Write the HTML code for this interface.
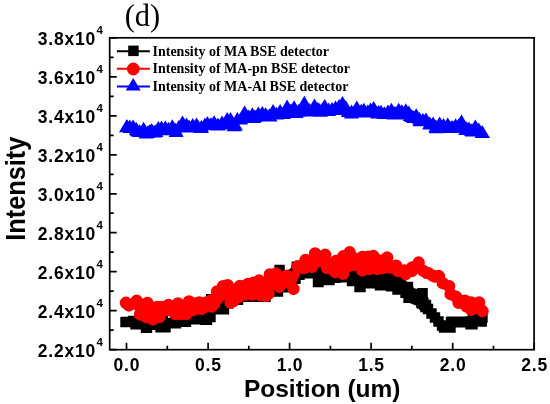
<!DOCTYPE html>
<html><head><meta charset="utf-8"><style>
html,body{margin:0;padding:0;background:#fff;width:550px;height:404px;overflow:hidden}
svg{display:block}
.ax{font-family:"Liberation Sans",Arial,sans-serif;font-weight:bold;font-size:17.5px;fill:#000}
.ax text{letter-spacing:0.78px}
.ax text.sup{font-size:11.5px;letter-spacing:0}
.lg{font-family:"Liberation Serif","Times New Roman",serif;font-weight:bold;font-size:14px;fill:#000}
</style></head><body>
<svg width="550" height="404" viewBox="0 0 550 404">
<rect width="550" height="404" fill="#fff"/>
<text x="142.5" y="25.5" text-anchor="middle" font-family="Liberation Serif,serif" font-size="30.5">(d)</text>
<path fill="#000" d="M121.2 316.8h10.4v10.4h-10.4zM127.8 315.8h10.4v10.4h-10.4zM134.8 314.8h10.4v10.4h-10.4zM144.8 314.8h10.4v10.4h-10.4zM157.8 314.3h10.4v10.4h-10.4zM169.8 314.3h10.4v10.4h-10.4zM179.8 313.8h10.4v10.4h-10.4zM189.8 313.8h10.4v10.4h-10.4zM197.8 304.8h10.4v10.4h-10.4zM206.0 294.0h10.4v10.4h-10.4zM212.8 295.3h10.4v10.4h-10.4zM220.8 292.7h10.4v10.4h-10.4zM225.8 291.8h10.4v10.4h-10.4zM232.0 286.6h10.4v10.4h-10.4zM244.8 283.8h10.4v10.4h-10.4zM254.8 281.8h10.4v10.4h-10.4zM262.8 279.8h10.4v10.4h-10.4zM268.8 274.8h10.4v10.4h-10.4zM274.4 264.8h10.4v10.4h-10.4zM282.8 271.8h10.4v10.4h-10.4zM291.6 261.4h10.4v10.4h-10.4zM299.8 261.8h10.4v10.4h-10.4zM309.8 261.8h10.4v10.4h-10.4zM319.8 260.8h10.4v10.4h-10.4zM329.8 260.8h10.4v10.4h-10.4zM339.8 260.8h10.4v10.4h-10.4zM349.8 260.8h10.4v10.4h-10.4zM357.8 260.8h10.4v10.4h-10.4zM366.8 260.1h10.4v10.4h-10.4zM374.1 260.1h10.4v10.4h-10.4zM380.8 262.8h10.4v10.4h-10.4zM386.8 267.8h10.4v10.4h-10.4zM394.8 275.8h10.4v10.4h-10.4zM402.8 281.8h10.4v10.4h-10.4zM409.8 288.8h10.4v10.4h-10.4zM417.4 288.1h10.4v10.4h-10.4zM420.8 299.8h10.4v10.4h-10.4zM422.8 303.8h10.4v10.4h-10.4zM426.3 308.3h10.4v10.4h-10.4zM429.8 312.3h10.4v10.4h-10.4zM433.3 316.3h10.4v10.4h-10.4zM436.8 320.3h10.4v10.4h-10.4zM440.3 322.2h10.4v10.4h-10.4zM446.3 316.5h10.4v10.4h-10.4zM454.5 316.5h10.4v10.4h-10.4zM459.8 316.7h10.4v10.4h-10.4zM464.8 316.3h10.4v10.4h-10.4zM476.5 316.3h10.4v10.4h-10.4zM120.3 316.9h10.4v10.4h-10.4zM120.8 316.9h10.4v10.4h-10.4zM121.3 316.9h10.4v10.4h-10.4zM121.8 316.9h10.4v10.4h-10.4zM122.3 316.9h10.4v10.4h-10.4zM122.8 316.9h10.4v10.4h-10.4zM123.3 316.9h10.4v10.4h-10.4zM123.8 316.9h10.4v10.4h-10.4zM124.3 316.9h10.4v10.4h-10.4zM124.8 316.9h10.4v10.4h-10.4zM125.3 316.9h10.4v10.4h-10.4zM125.8 316.9h10.4v10.4h-10.4zM126.3 316.9h10.4v10.4h-10.4zM126.8 316.9h10.4v10.4h-10.4zM127.3 316.9h10.4v10.4h-10.4zM127.8 316.9h10.4v10.4h-10.4zM128.3 316.9h10.4v10.4h-10.4zM128.8 316.9h10.4v10.4h-10.4zM129.3 316.9h10.4v10.4h-10.4zM129.8 316.9h10.4v10.4h-10.4zM130.3 319.1h10.4v10.4h-10.4zM130.8 319.1h10.4v10.4h-10.4zM131.3 319.1h10.4v10.4h-10.4zM131.8 319.1h10.4v10.4h-10.4zM132.3 319.1h10.4v10.4h-10.4zM132.8 319.1h10.4v10.4h-10.4zM133.3 319.1h10.4v10.4h-10.4zM133.8 319.1h10.4v10.4h-10.4zM134.3 319.1h10.4v10.4h-10.4zM134.8 319.1h10.4v10.4h-10.4zM135.3 319.1h10.4v10.4h-10.4zM135.8 319.1h10.4v10.4h-10.4zM136.3 319.1h10.4v10.4h-10.4zM136.8 319.1h10.4v10.4h-10.4zM137.3 319.1h10.4v10.4h-10.4zM137.8 319.1h10.4v10.4h-10.4zM138.3 319.1h10.4v10.4h-10.4zM138.8 319.1h10.4v10.4h-10.4zM139.3 319.1h10.4v10.4h-10.4zM139.8 319.1h10.4v10.4h-10.4zM140.3 319.1h10.4v10.4h-10.4zM140.8 322.5h10.4v10.4h-10.4zM141.3 322.5h10.4v10.4h-10.4zM141.8 322.5h10.4v10.4h-10.4zM142.3 319.7h10.4v10.4h-10.4zM142.8 319.7h10.4v10.4h-10.4zM143.3 319.7h10.4v10.4h-10.4zM143.8 319.7h10.4v10.4h-10.4zM144.3 319.7h10.4v10.4h-10.4zM144.8 319.7h10.4v10.4h-10.4zM145.3 319.7h10.4v10.4h-10.4zM145.8 319.7h10.4v10.4h-10.4zM146.3 319.7h10.4v10.4h-10.4zM146.8 319.7h10.4v10.4h-10.4zM147.3 319.7h10.4v10.4h-10.4zM147.8 319.7h10.4v10.4h-10.4zM148.3 319.7h10.4v10.4h-10.4zM148.8 319.7h10.4v10.4h-10.4zM149.3 319.7h10.4v10.4h-10.4zM149.8 319.7h10.4v10.4h-10.4zM150.3 319.7h10.4v10.4h-10.4zM150.8 319.7h10.4v10.4h-10.4zM151.3 319.7h10.4v10.4h-10.4zM151.8 319.7h10.4v10.4h-10.4zM152.3 319.7h10.4v10.4h-10.4zM152.8 319.7h10.4v10.4h-10.4zM153.3 319.7h10.4v10.4h-10.4zM153.8 319.7h10.4v10.4h-10.4zM154.3 319.7h10.4v10.4h-10.4zM154.8 319.7h10.4v10.4h-10.4zM155.3 322.2h10.4v10.4h-10.4zM155.8 322.2h10.4v10.4h-10.4zM156.3 322.2h10.4v10.4h-10.4zM156.8 322.2h10.4v10.4h-10.4zM157.3 322.2h10.4v10.4h-10.4zM157.8 322.2h10.4v10.4h-10.4zM158.3 322.2h10.4v10.4h-10.4zM158.8 322.2h10.4v10.4h-10.4zM159.3 322.2h10.4v10.4h-10.4zM159.8 322.2h10.4v10.4h-10.4zM160.3 322.2h10.4v10.4h-10.4zM160.8 318.1h10.4v10.4h-10.4zM161.3 318.1h10.4v10.4h-10.4zM161.8 318.1h10.4v10.4h-10.4zM162.3 318.1h10.4v10.4h-10.4zM162.8 318.1h10.4v10.4h-10.4zM163.3 318.1h10.4v10.4h-10.4zM163.8 318.1h10.4v10.4h-10.4zM164.3 318.1h10.4v10.4h-10.4zM164.8 318.1h10.4v10.4h-10.4zM165.3 318.1h10.4v10.4h-10.4zM165.8 318.1h10.4v10.4h-10.4zM166.3 318.1h10.4v10.4h-10.4zM166.8 318.1h10.4v10.4h-10.4zM167.3 318.1h10.4v10.4h-10.4zM167.8 318.1h10.4v10.4h-10.4zM168.3 318.1h10.4v10.4h-10.4zM168.8 318.1h10.4v10.4h-10.4zM169.3 318.1h10.4v10.4h-10.4zM169.8 318.1h10.4v10.4h-10.4zM170.3 318.1h10.4v10.4h-10.4zM170.8 318.1h10.4v10.4h-10.4zM171.3 316.7h10.4v10.4h-10.4zM171.8 316.7h10.4v10.4h-10.4zM172.3 316.7h10.4v10.4h-10.4zM172.8 316.7h10.4v10.4h-10.4zM173.3 316.7h10.4v10.4h-10.4zM173.8 316.7h10.4v10.4h-10.4zM174.3 316.7h10.4v10.4h-10.4zM174.8 316.7h10.4v10.4h-10.4zM175.3 316.7h10.4v10.4h-10.4zM175.8 316.7h10.4v10.4h-10.4zM176.3 316.7h10.4v10.4h-10.4zM176.8 316.7h10.4v10.4h-10.4zM177.3 316.7h10.4v10.4h-10.4zM177.8 316.7h10.4v10.4h-10.4zM178.3 316.7h10.4v10.4h-10.4zM178.8 316.7h10.4v10.4h-10.4zM179.3 316.7h10.4v10.4h-10.4zM179.8 316.7h10.4v10.4h-10.4zM180.3 316.7h10.4v10.4h-10.4zM180.8 316.7h10.4v10.4h-10.4zM181.3 314.0h10.4v10.4h-10.4zM181.8 314.0h10.4v10.4h-10.4zM182.3 314.0h10.4v10.4h-10.4zM182.8 314.0h10.4v10.4h-10.4zM183.3 314.0h10.4v10.4h-10.4zM183.8 314.0h10.4v10.4h-10.4zM184.3 314.0h10.4v10.4h-10.4zM184.8 314.0h10.4v10.4h-10.4zM185.3 314.0h10.4v10.4h-10.4zM185.8 314.0h10.4v10.4h-10.4zM186.3 314.0h10.4v10.4h-10.4zM186.8 314.0h10.4v10.4h-10.4zM187.3 314.0h10.4v10.4h-10.4zM187.8 314.0h10.4v10.4h-10.4zM188.3 314.0h10.4v10.4h-10.4zM188.8 314.0h10.4v10.4h-10.4zM189.3 314.0h10.4v10.4h-10.4zM189.8 314.0h10.4v10.4h-10.4zM190.3 314.0h10.4v10.4h-10.4zM190.8 314.0h10.4v10.4h-10.4zM191.3 314.0h10.4v10.4h-10.4zM191.8 314.0h10.4v10.4h-10.4zM192.3 314.0h10.4v10.4h-10.4zM192.8 314.0h10.4v10.4h-10.4zM193.3 314.0h10.4v10.4h-10.4zM193.8 314.0h10.4v10.4h-10.4zM194.3 314.0h10.4v10.4h-10.4zM194.8 314.0h10.4v10.4h-10.4zM195.3 314.0h10.4v10.4h-10.4zM195.8 314.0h10.4v10.4h-10.4zM196.3 314.0h10.4v10.4h-10.4zM196.8 314.0h10.4v10.4h-10.4zM197.3 314.0h10.4v10.4h-10.4zM197.8 314.0h10.4v10.4h-10.4zM198.3 314.0h10.4v10.4h-10.4zM198.8 314.0h10.4v10.4h-10.4zM199.3 314.0h10.4v10.4h-10.4zM199.8 314.7h10.4v10.4h-10.4zM200.3 314.7h10.4v10.4h-10.4zM200.8 314.7h10.4v10.4h-10.4zM201.3 314.7h10.4v10.4h-10.4zM201.8 314.7h10.4v10.4h-10.4zM202.3 311.9h10.4v10.4h-10.4zM202.8 311.9h10.4v10.4h-10.4zM203.3 311.9h10.4v10.4h-10.4zM203.8 311.9h10.4v10.4h-10.4zM204.3 311.9h10.4v10.4h-10.4zM204.8 311.9h10.4v10.4h-10.4zM205.3 311.9h10.4v10.4h-10.4zM205.8 304.1h10.4v10.4h-10.4zM206.3 304.1h10.4v10.4h-10.4zM206.8 304.1h10.4v10.4h-10.4zM207.3 304.1h10.4v10.4h-10.4zM207.8 304.1h10.4v10.4h-10.4zM208.3 304.1h10.4v10.4h-10.4zM208.8 304.1h10.4v10.4h-10.4zM209.3 304.1h10.4v10.4h-10.4zM209.8 304.1h10.4v10.4h-10.4zM210.3 304.1h10.4v10.4h-10.4zM210.8 304.1h10.4v10.4h-10.4zM211.3 304.1h10.4v10.4h-10.4zM211.8 304.1h10.4v10.4h-10.4zM212.3 304.1h10.4v10.4h-10.4zM212.8 304.1h10.4v10.4h-10.4zM213.3 304.1h10.4v10.4h-10.4zM213.8 304.1h10.4v10.4h-10.4zM214.3 304.1h10.4v10.4h-10.4zM214.8 304.1h10.4v10.4h-10.4zM215.3 304.1h10.4v10.4h-10.4zM215.8 304.1h10.4v10.4h-10.4zM216.3 304.1h10.4v10.4h-10.4zM216.8 304.1h10.4v10.4h-10.4zM217.3 304.1h10.4v10.4h-10.4zM217.8 304.1h10.4v10.4h-10.4zM218.3 304.1h10.4v10.4h-10.4zM218.8 304.1h10.4v10.4h-10.4zM219.3 298.0h10.4v10.4h-10.4zM219.8 298.0h10.4v10.4h-10.4zM220.3 298.0h10.4v10.4h-10.4zM220.8 298.0h10.4v10.4h-10.4zM221.3 298.0h10.4v10.4h-10.4zM221.8 298.0h10.4v10.4h-10.4zM222.3 298.0h10.4v10.4h-10.4zM222.8 298.0h10.4v10.4h-10.4zM223.3 298.0h10.4v10.4h-10.4zM223.8 294.6h10.4v10.4h-10.4zM224.3 294.6h10.4v10.4h-10.4zM224.8 294.6h10.4v10.4h-10.4zM225.3 294.6h10.4v10.4h-10.4zM225.8 294.6h10.4v10.4h-10.4zM226.3 294.6h10.4v10.4h-10.4zM226.8 294.6h10.4v10.4h-10.4zM227.3 294.6h10.4v10.4h-10.4zM227.8 294.5h10.4v10.4h-10.4zM228.3 294.5h10.4v10.4h-10.4zM228.8 294.5h10.4v10.4h-10.4zM229.3 294.5h10.4v10.4h-10.4zM229.8 294.5h10.4v10.4h-10.4zM230.3 294.5h10.4v10.4h-10.4zM230.8 294.5h10.4v10.4h-10.4zM231.3 294.5h10.4v10.4h-10.4zM231.8 294.5h10.4v10.4h-10.4zM232.3 294.5h10.4v10.4h-10.4zM232.8 294.5h10.4v10.4h-10.4zM233.3 291.6h10.4v10.4h-10.4zM233.8 291.6h10.4v10.4h-10.4zM234.3 291.6h10.4v10.4h-10.4zM234.8 291.6h10.4v10.4h-10.4zM235.3 291.6h10.4v10.4h-10.4zM235.8 291.6h10.4v10.4h-10.4zM236.3 291.6h10.4v10.4h-10.4zM236.8 291.6h10.4v10.4h-10.4zM237.3 291.6h10.4v10.4h-10.4zM237.8 291.6h10.4v10.4h-10.4zM238.3 291.6h10.4v10.4h-10.4zM238.8 291.6h10.4v10.4h-10.4zM239.3 291.6h10.4v10.4h-10.4zM239.8 291.6h10.4v10.4h-10.4zM240.3 291.6h10.4v10.4h-10.4zM240.8 291.6h10.4v10.4h-10.4zM241.3 291.6h10.4v10.4h-10.4zM241.8 291.6h10.4v10.4h-10.4zM242.3 291.6h10.4v10.4h-10.4zM242.8 291.6h10.4v10.4h-10.4zM243.3 291.6h10.4v10.4h-10.4zM243.8 291.6h10.4v10.4h-10.4zM244.3 291.6h10.4v10.4h-10.4zM244.8 291.6h10.4v10.4h-10.4zM245.3 291.6h10.4v10.4h-10.4zM245.8 291.6h10.4v10.4h-10.4zM246.3 291.6h10.4v10.4h-10.4zM246.8 291.6h10.4v10.4h-10.4zM247.3 291.6h10.4v10.4h-10.4zM247.8 291.6h10.4v10.4h-10.4zM248.3 291.6h10.4v10.4h-10.4zM248.8 291.6h10.4v10.4h-10.4zM249.3 291.6h10.4v10.4h-10.4zM249.8 291.6h10.4v10.4h-10.4zM250.3 291.6h10.4v10.4h-10.4zM250.8 291.6h10.4v10.4h-10.4zM251.3 291.6h10.4v10.4h-10.4zM251.8 291.6h10.4v10.4h-10.4zM252.3 291.6h10.4v10.4h-10.4zM252.8 291.6h10.4v10.4h-10.4zM253.3 291.6h10.4v10.4h-10.4zM253.8 291.6h10.4v10.4h-10.4zM254.3 291.6h10.4v10.4h-10.4zM254.8 291.6h10.4v10.4h-10.4zM255.3 291.6h10.4v10.4h-10.4zM255.8 291.6h10.4v10.4h-10.4zM256.3 291.6h10.4v10.4h-10.4zM256.8 291.6h10.4v10.4h-10.4zM257.3 291.6h10.4v10.4h-10.4zM257.8 291.6h10.4v10.4h-10.4zM258.3 291.6h10.4v10.4h-10.4zM258.8 291.6h10.4v10.4h-10.4zM259.3 291.6h10.4v10.4h-10.4zM259.8 291.6h10.4v10.4h-10.4zM260.3 291.6h10.4v10.4h-10.4zM260.8 286.3h10.4v10.4h-10.4zM261.3 286.3h10.4v10.4h-10.4zM261.8 286.3h10.4v10.4h-10.4zM262.3 286.3h10.4v10.4h-10.4zM262.8 286.3h10.4v10.4h-10.4zM263.3 286.3h10.4v10.4h-10.4zM263.8 286.3h10.4v10.4h-10.4zM264.3 286.3h10.4v10.4h-10.4zM264.8 286.3h10.4v10.4h-10.4zM265.3 286.3h10.4v10.4h-10.4zM265.8 286.3h10.4v10.4h-10.4zM266.3 286.3h10.4v10.4h-10.4zM266.8 286.3h10.4v10.4h-10.4zM267.3 286.3h10.4v10.4h-10.4zM267.8 286.3h10.4v10.4h-10.4zM268.3 286.3h10.4v10.4h-10.4zM268.8 286.3h10.4v10.4h-10.4zM269.3 286.3h10.4v10.4h-10.4zM269.8 286.3h10.4v10.4h-10.4zM270.3 286.3h10.4v10.4h-10.4zM270.8 286.3h10.4v10.4h-10.4zM271.3 286.3h10.4v10.4h-10.4zM271.8 286.3h10.4v10.4h-10.4zM272.3 286.3h10.4v10.4h-10.4zM272.8 286.3h10.4v10.4h-10.4zM273.3 282.2h10.4v10.4h-10.4zM273.8 282.2h10.4v10.4h-10.4zM274.3 282.2h10.4v10.4h-10.4zM274.8 282.2h10.4v10.4h-10.4zM275.3 282.2h10.4v10.4h-10.4zM275.8 282.2h10.4v10.4h-10.4zM276.3 282.2h10.4v10.4h-10.4zM276.8 282.2h10.4v10.4h-10.4zM277.3 282.2h10.4v10.4h-10.4zM277.8 282.2h10.4v10.4h-10.4zM278.3 282.2h10.4v10.4h-10.4zM278.8 277.6h10.4v10.4h-10.4zM279.3 277.6h10.4v10.4h-10.4zM279.8 277.6h10.4v10.4h-10.4zM280.3 277.6h10.4v10.4h-10.4zM280.8 277.6h10.4v10.4h-10.4zM281.3 277.6h10.4v10.4h-10.4zM281.8 277.6h10.4v10.4h-10.4zM282.3 277.6h10.4v10.4h-10.4zM282.8 277.6h10.4v10.4h-10.4zM283.3 277.6h10.4v10.4h-10.4zM283.8 277.6h10.4v10.4h-10.4zM284.3 277.6h10.4v10.4h-10.4zM284.8 277.6h10.4v10.4h-10.4zM285.3 277.6h10.4v10.4h-10.4zM285.8 273.6h10.4v10.4h-10.4zM286.3 273.6h10.4v10.4h-10.4zM286.8 273.6h10.4v10.4h-10.4zM287.3 273.6h10.4v10.4h-10.4zM287.8 273.6h10.4v10.4h-10.4zM288.3 273.6h10.4v10.4h-10.4zM288.8 273.6h10.4v10.4h-10.4zM289.3 273.6h10.4v10.4h-10.4zM289.8 273.6h10.4v10.4h-10.4zM290.3 273.6h10.4v10.4h-10.4zM290.8 269.6h10.4v10.4h-10.4zM291.3 269.6h10.4v10.4h-10.4zM291.8 269.6h10.4v10.4h-10.4zM292.3 269.6h10.4v10.4h-10.4zM292.8 269.6h10.4v10.4h-10.4zM293.3 269.6h10.4v10.4h-10.4zM293.8 269.6h10.4v10.4h-10.4zM294.3 269.6h10.4v10.4h-10.4zM294.8 268.1h10.4v10.4h-10.4zM295.3 268.1h10.4v10.4h-10.4zM295.8 268.1h10.4v10.4h-10.4zM296.3 268.1h10.4v10.4h-10.4zM296.8 268.1h10.4v10.4h-10.4zM297.3 268.1h10.4v10.4h-10.4zM297.8 268.1h10.4v10.4h-10.4zM298.3 268.1h10.4v10.4h-10.4zM298.8 268.1h10.4v10.4h-10.4zM299.3 268.1h10.4v10.4h-10.4zM299.8 268.1h10.4v10.4h-10.4zM300.3 268.1h10.4v10.4h-10.4zM300.8 268.1h10.4v10.4h-10.4zM301.3 268.1h10.4v10.4h-10.4zM301.8 268.1h10.4v10.4h-10.4zM302.3 268.1h10.4v10.4h-10.4zM302.8 268.1h10.4v10.4h-10.4zM303.3 268.1h10.4v10.4h-10.4zM303.8 268.1h10.4v10.4h-10.4zM304.3 268.1h10.4v10.4h-10.4zM304.8 268.1h10.4v10.4h-10.4zM305.3 268.1h10.4v10.4h-10.4zM305.8 268.1h10.4v10.4h-10.4zM306.3 268.1h10.4v10.4h-10.4zM306.8 268.1h10.4v10.4h-10.4zM307.3 268.1h10.4v10.4h-10.4zM307.8 268.1h10.4v10.4h-10.4zM308.3 268.1h10.4v10.4h-10.4zM308.8 268.1h10.4v10.4h-10.4zM309.3 268.1h10.4v10.4h-10.4zM309.8 268.1h10.4v10.4h-10.4zM310.3 268.1h10.4v10.4h-10.4zM310.8 268.1h10.4v10.4h-10.4zM311.3 268.1h10.4v10.4h-10.4zM311.8 268.1h10.4v10.4h-10.4zM312.3 268.1h10.4v10.4h-10.4zM312.8 276.9h10.4v10.4h-10.4zM313.3 276.9h10.4v10.4h-10.4zM313.8 274.9h10.4v10.4h-10.4zM314.3 274.9h10.4v10.4h-10.4zM314.8 274.9h10.4v10.4h-10.4zM315.3 274.9h10.4v10.4h-10.4zM315.8 274.9h10.4v10.4h-10.4zM316.3 274.9h10.4v10.4h-10.4zM316.8 274.9h10.4v10.4h-10.4zM317.3 274.9h10.4v10.4h-10.4zM317.8 274.9h10.4v10.4h-10.4zM318.3 274.9h10.4v10.4h-10.4zM318.8 274.9h10.4v10.4h-10.4zM319.3 274.9h10.4v10.4h-10.4zM319.8 274.9h10.4v10.4h-10.4zM320.3 274.9h10.4v10.4h-10.4zM320.8 274.9h10.4v10.4h-10.4zM321.3 274.9h10.4v10.4h-10.4zM321.8 274.9h10.4v10.4h-10.4zM322.3 274.9h10.4v10.4h-10.4zM322.8 274.9h10.4v10.4h-10.4zM323.3 274.9h10.4v10.4h-10.4zM323.8 274.9h10.4v10.4h-10.4zM324.3 274.9h10.4v10.4h-10.4zM324.8 272.6h10.4v10.4h-10.4zM325.3 272.6h10.4v10.4h-10.4zM325.8 272.6h10.4v10.4h-10.4zM326.3 272.6h10.4v10.4h-10.4zM326.8 272.6h10.4v10.4h-10.4zM327.3 272.6h10.4v10.4h-10.4zM327.8 272.6h10.4v10.4h-10.4zM328.3 272.6h10.4v10.4h-10.4zM328.8 272.6h10.4v10.4h-10.4zM329.3 272.6h10.4v10.4h-10.4zM329.8 272.6h10.4v10.4h-10.4zM330.3 272.6h10.4v10.4h-10.4zM330.8 272.1h10.4v10.4h-10.4zM331.3 272.1h10.4v10.4h-10.4zM331.8 272.1h10.4v10.4h-10.4zM332.3 272.1h10.4v10.4h-10.4zM332.8 272.1h10.4v10.4h-10.4zM333.3 272.1h10.4v10.4h-10.4zM333.8 272.1h10.4v10.4h-10.4zM334.3 272.1h10.4v10.4h-10.4zM334.8 272.1h10.4v10.4h-10.4zM335.3 272.1h10.4v10.4h-10.4zM335.8 272.1h10.4v10.4h-10.4zM336.3 272.1h10.4v10.4h-10.4zM336.8 272.1h10.4v10.4h-10.4zM337.3 272.1h10.4v10.4h-10.4zM337.8 272.1h10.4v10.4h-10.4zM338.3 272.1h10.4v10.4h-10.4zM338.8 272.1h10.4v10.4h-10.4zM339.3 272.1h10.4v10.4h-10.4zM339.8 272.1h10.4v10.4h-10.4zM340.3 272.1h10.4v10.4h-10.4zM340.8 272.1h10.4v10.4h-10.4zM341.3 272.1h10.4v10.4h-10.4zM341.8 272.1h10.4v10.4h-10.4zM342.3 272.1h10.4v10.4h-10.4zM342.8 272.1h10.4v10.4h-10.4zM343.3 272.1h10.4v10.4h-10.4zM343.8 272.1h10.4v10.4h-10.4zM344.3 272.1h10.4v10.4h-10.4zM344.8 272.1h10.4v10.4h-10.4zM345.3 272.1h10.4v10.4h-10.4zM345.8 272.1h10.4v10.4h-10.4zM346.3 272.1h10.4v10.4h-10.4zM346.8 275.8h10.4v10.4h-10.4zM347.3 275.8h10.4v10.4h-10.4zM347.8 275.8h10.4v10.4h-10.4zM348.3 275.8h10.4v10.4h-10.4zM348.8 275.8h10.4v10.4h-10.4zM349.3 275.8h10.4v10.4h-10.4zM349.8 275.8h10.4v10.4h-10.4zM350.3 275.8h10.4v10.4h-10.4zM350.8 275.8h10.4v10.4h-10.4zM351.3 275.8h10.4v10.4h-10.4zM351.8 275.8h10.4v10.4h-10.4zM352.3 275.8h10.4v10.4h-10.4zM352.8 275.8h10.4v10.4h-10.4zM353.3 275.8h10.4v10.4h-10.4zM353.8 275.8h10.4v10.4h-10.4zM354.3 281.8h10.4v10.4h-10.4zM354.8 281.8h10.4v10.4h-10.4zM355.3 281.8h10.4v10.4h-10.4zM355.8 278.1h10.4v10.4h-10.4zM356.3 278.1h10.4v10.4h-10.4zM356.8 278.1h10.4v10.4h-10.4zM357.3 278.1h10.4v10.4h-10.4zM357.8 278.1h10.4v10.4h-10.4zM358.3 278.1h10.4v10.4h-10.4zM358.8 278.1h10.4v10.4h-10.4zM359.3 278.1h10.4v10.4h-10.4zM359.8 278.1h10.4v10.4h-10.4zM360.3 278.1h10.4v10.4h-10.4zM360.8 278.1h10.4v10.4h-10.4zM361.3 278.1h10.4v10.4h-10.4zM361.8 278.1h10.4v10.4h-10.4zM362.3 278.1h10.4v10.4h-10.4zM362.8 278.1h10.4v10.4h-10.4zM363.3 278.1h10.4v10.4h-10.4zM363.8 278.1h10.4v10.4h-10.4zM364.3 278.1h10.4v10.4h-10.4zM364.8 278.1h10.4v10.4h-10.4zM365.3 278.1h10.4v10.4h-10.4zM365.8 278.1h10.4v10.4h-10.4zM366.3 278.1h10.4v10.4h-10.4zM366.8 278.1h10.4v10.4h-10.4zM367.3 278.1h10.4v10.4h-10.4zM367.8 278.1h10.4v10.4h-10.4zM368.3 278.1h10.4v10.4h-10.4zM368.8 278.1h10.4v10.4h-10.4zM369.3 278.1h10.4v10.4h-10.4zM369.8 278.1h10.4v10.4h-10.4zM370.3 278.1h10.4v10.4h-10.4zM370.8 278.1h10.4v10.4h-10.4zM371.3 278.1h10.4v10.4h-10.4zM371.8 278.1h10.4v10.4h-10.4zM372.3 278.1h10.4v10.4h-10.4zM372.8 278.1h10.4v10.4h-10.4zM373.3 278.1h10.4v10.4h-10.4zM373.8 278.1h10.4v10.4h-10.4zM374.3 278.1h10.4v10.4h-10.4zM374.8 280.1h10.4v10.4h-10.4zM375.3 280.1h10.4v10.4h-10.4zM375.8 280.1h10.4v10.4h-10.4zM376.3 280.1h10.4v10.4h-10.4zM376.8 280.1h10.4v10.4h-10.4zM377.3 280.1h10.4v10.4h-10.4zM377.8 280.1h10.4v10.4h-10.4zM378.3 280.1h10.4v10.4h-10.4zM378.8 280.1h10.4v10.4h-10.4zM379.3 280.1h10.4v10.4h-10.4zM379.8 280.1h10.4v10.4h-10.4zM380.3 280.1h10.4v10.4h-10.4zM380.8 280.1h10.4v10.4h-10.4zM381.3 280.1h10.4v10.4h-10.4zM381.8 280.1h10.4v10.4h-10.4zM382.3 280.1h10.4v10.4h-10.4zM382.8 280.1h10.4v10.4h-10.4zM383.3 280.1h10.4v10.4h-10.4zM383.8 280.1h10.4v10.4h-10.4zM384.3 280.1h10.4v10.4h-10.4zM384.8 280.1h10.4v10.4h-10.4zM385.3 280.1h10.4v10.4h-10.4zM385.8 281.2h10.4v10.4h-10.4zM386.3 281.2h10.4v10.4h-10.4zM386.8 281.2h10.4v10.4h-10.4zM387.3 281.2h10.4v10.4h-10.4zM387.8 281.2h10.4v10.4h-10.4zM388.3 281.2h10.4v10.4h-10.4zM388.8 281.2h10.4v10.4h-10.4zM389.3 281.2h10.4v10.4h-10.4zM389.8 281.2h10.4v10.4h-10.4zM390.3 281.2h10.4v10.4h-10.4zM390.8 281.2h10.4v10.4h-10.4zM391.3 281.2h10.4v10.4h-10.4zM391.8 281.2h10.4v10.4h-10.4zM392.3 284.4h10.4v10.4h-10.4zM392.8 284.4h10.4v10.4h-10.4zM393.3 284.4h10.4v10.4h-10.4zM393.8 284.4h10.4v10.4h-10.4zM394.3 284.4h10.4v10.4h-10.4zM394.8 284.4h10.4v10.4h-10.4zM395.3 284.4h10.4v10.4h-10.4zM395.8 284.4h10.4v10.4h-10.4zM396.3 284.4h10.4v10.4h-10.4zM396.8 284.4h10.4v10.4h-10.4zM397.3 284.4h10.4v10.4h-10.4zM397.8 284.4h10.4v10.4h-10.4zM398.3 284.4h10.4v10.4h-10.4zM398.8 284.4h10.4v10.4h-10.4zM399.3 284.4h10.4v10.4h-10.4zM399.8 284.4h10.4v10.4h-10.4zM400.3 287.6h10.4v10.4h-10.4zM400.8 287.6h10.4v10.4h-10.4zM401.3 287.6h10.4v10.4h-10.4zM401.8 287.6h10.4v10.4h-10.4zM402.3 287.6h10.4v10.4h-10.4zM402.8 287.6h10.4v10.4h-10.4zM403.3 292.6h10.4v10.4h-10.4zM403.8 292.6h10.4v10.4h-10.4zM404.3 292.6h10.4v10.4h-10.4zM404.8 292.6h10.4v10.4h-10.4zM438.8 322.3h10.4v10.4h-10.4zM439.3 322.3h10.4v10.4h-10.4zM439.8 322.3h10.4v10.4h-10.4zM440.3 322.3h10.4v10.4h-10.4zM440.8 322.3h10.4v10.4h-10.4zM441.3 322.3h10.4v10.4h-10.4zM441.8 322.3h10.4v10.4h-10.4zM442.3 322.3h10.4v10.4h-10.4zM442.8 322.3h10.4v10.4h-10.4zM443.3 322.3h10.4v10.4h-10.4zM443.8 322.3h10.4v10.4h-10.4zM444.3 322.3h10.4v10.4h-10.4zM444.8 322.3h10.4v10.4h-10.4zM445.3 322.3h10.4v10.4h-10.4zM445.8 317.1h10.4v10.4h-10.4zM446.3 317.1h10.4v10.4h-10.4zM446.8 317.1h10.4v10.4h-10.4zM447.3 317.1h10.4v10.4h-10.4zM447.8 317.1h10.4v10.4h-10.4zM448.3 317.1h10.4v10.4h-10.4zM448.8 317.1h10.4v10.4h-10.4zM449.3 317.1h10.4v10.4h-10.4zM449.8 317.1h10.4v10.4h-10.4zM450.3 317.1h10.4v10.4h-10.4zM450.8 317.1h10.4v10.4h-10.4zM451.3 317.1h10.4v10.4h-10.4zM451.8 317.1h10.4v10.4h-10.4zM452.3 317.1h10.4v10.4h-10.4zM452.8 317.1h10.4v10.4h-10.4zM453.3 317.1h10.4v10.4h-10.4zM453.8 317.1h10.4v10.4h-10.4zM454.3 317.1h10.4v10.4h-10.4zM454.8 317.1h10.4v10.4h-10.4zM455.3 317.1h10.4v10.4h-10.4zM455.8 317.1h10.4v10.4h-10.4zM456.3 317.1h10.4v10.4h-10.4zM456.8 317.1h10.4v10.4h-10.4zM457.3 317.1h10.4v10.4h-10.4zM457.8 317.1h10.4v10.4h-10.4zM458.3 317.1h10.4v10.4h-10.4zM458.8 317.1h10.4v10.4h-10.4zM459.3 317.1h10.4v10.4h-10.4zM459.8 317.1h10.4v10.4h-10.4zM460.3 317.1h10.4v10.4h-10.4zM460.8 317.1h10.4v10.4h-10.4zM461.3 317.1h10.4v10.4h-10.4zM461.8 317.1h10.4v10.4h-10.4zM462.3 317.1h10.4v10.4h-10.4zM462.8 317.1h10.4v10.4h-10.4zM463.3 317.1h10.4v10.4h-10.4zM463.8 317.1h10.4v10.4h-10.4zM464.3 317.1h10.4v10.4h-10.4zM464.8 317.1h10.4v10.4h-10.4zM465.3 319.2h10.4v10.4h-10.4zM465.8 319.2h10.4v10.4h-10.4zM466.3 319.2h10.4v10.4h-10.4zM466.8 319.2h10.4v10.4h-10.4zM467.3 319.2h10.4v10.4h-10.4zM467.8 314.2h10.4v10.4h-10.4zM468.3 314.2h10.4v10.4h-10.4zM468.8 314.2h10.4v10.4h-10.4zM469.3 314.2h10.4v10.4h-10.4zM469.8 314.2h10.4v10.4h-10.4zM470.3 314.2h10.4v10.4h-10.4zM470.8 314.2h10.4v10.4h-10.4zM471.3 314.2h10.4v10.4h-10.4zM471.8 314.2h10.4v10.4h-10.4zM472.3 314.2h10.4v10.4h-10.4zM472.8 314.2h10.4v10.4h-10.4zM473.3 314.2h10.4v10.4h-10.4zM473.8 314.2h10.4v10.4h-10.4zM474.3 314.2h10.4v10.4h-10.4zM474.8 314.2h10.4v10.4h-10.4zM475.3 312.4h10.4v10.4h-10.4zM475.8 312.4h10.4v10.4h-10.4zM476.3 312.4h10.4v10.4h-10.4zM476.8 312.4h10.4v10.4h-10.4zM477.3 312.4h10.4v10.4h-10.4zM413.3 294.3h10.4v10.4h-10.4zM420.8 299.8h10.4v10.4h-10.4zM422.8 303.8h10.4v10.4h-10.4zM426.3 308.3h10.4v10.4h-10.4zM429.8 312.3h10.4v10.4h-10.4zM433.3 316.3h10.4v10.4h-10.4zM436.8 320.3h10.4v10.4h-10.4zM440.3 322.2h10.4v10.4h-10.4zM141.2 318.7h10.4v10.4h-10.4zM155.2 318.1h10.4v10.4h-10.4zM156.2 318.3h10.4v10.4h-10.4zM157.2 318.3h10.4v10.4h-10.4zM158.2 318.3h10.4v10.4h-10.4zM159.2 318.3h10.4v10.4h-10.4zM160.2 318.3h10.4v10.4h-10.4zM196.2 310.3h10.4v10.4h-10.4zM197.2 309.7h10.4v10.4h-10.4zM198.2 309.1h10.4v10.4h-10.4zM199.2 308.5h10.4v10.4h-10.4zM200.2 308.2h10.4v10.4h-10.4zM201.2 305.1h10.4v10.4h-10.4zM201.2 309.9h10.4v10.4h-10.4zM202.2 305.7h10.4v10.4h-10.4zM203.2 302.4h10.4v10.4h-10.4zM203.2 307.2h10.4v10.4h-10.4zM204.2 301.5h10.4v10.4h-10.4zM204.2 306.7h10.4v10.4h-10.4zM205.2 300.7h10.4v10.4h-10.4zM205.2 306.3h10.4v10.4h-10.4zM206.2 299.1h10.4v10.4h-10.4zM207.2 299.2h10.4v10.4h-10.4zM208.2 299.3h10.4v10.4h-10.4zM209.2 299.4h10.4v10.4h-10.4zM210.2 299.5h10.4v10.4h-10.4zM211.2 299.5h10.4v10.4h-10.4zM212.2 299.6h10.4v10.4h-10.4zM213.2 299.6h10.4v10.4h-10.4zM214.2 299.5h10.4v10.4h-10.4zM215.2 299.3h10.4v10.4h-10.4zM216.2 299.1h10.4v10.4h-10.4zM217.2 299.0h10.4v10.4h-10.4zM218.2 298.8h10.4v10.4h-10.4zM231.2 290.9h10.4v10.4h-10.4zM232.2 290.5h10.4v10.4h-10.4zM241.2 288.1h10.4v10.4h-10.4zM242.2 288.0h10.4v10.4h-10.4zM243.2 287.9h10.4v10.4h-10.4zM244.2 287.8h10.4v10.4h-10.4zM245.2 287.7h10.4v10.4h-10.4zM246.2 287.6h10.4v10.4h-10.4zM247.2 287.5h10.4v10.4h-10.4zM248.2 287.4h10.4v10.4h-10.4zM249.2 287.3h10.4v10.4h-10.4zM250.2 287.2h10.4v10.4h-10.4zM251.2 287.1h10.4v10.4h-10.4zM252.2 287.0h10.4v10.4h-10.4zM253.2 286.9h10.4v10.4h-10.4zM254.2 286.8h10.4v10.4h-10.4zM255.2 286.7h10.4v10.4h-10.4zM256.2 286.5h10.4v10.4h-10.4zM257.2 286.4h10.4v10.4h-10.4zM258.2 286.3h10.4v10.4h-10.4zM259.2 286.2h10.4v10.4h-10.4zM260.2 286.0h10.4v10.4h-10.4zM264.2 282.5h10.4v10.4h-10.4zM265.2 282.1h10.4v10.4h-10.4zM266.2 281.6h10.4v10.4h-10.4zM267.2 281.2h10.4v10.4h-10.4zM268.2 280.8h10.4v10.4h-10.4zM269.2 280.2h10.4v10.4h-10.4zM270.2 279.3h10.4v10.4h-10.4zM271.2 275.8h10.4v10.4h-10.4zM271.2 281.0h10.4v10.4h-10.4zM272.2 274.6h10.4v10.4h-10.4zM272.2 280.4h10.4v10.4h-10.4zM273.2 272.3h10.4v10.4h-10.4zM273.2 277.7h10.4v10.4h-10.4zM274.2 270.8h10.4v10.4h-10.4zM274.2 276.5h10.4v10.4h-10.4zM275.2 271.0h10.4v10.4h-10.4zM275.2 276.6h10.4v10.4h-10.4zM276.2 271.6h10.4v10.4h-10.4zM276.2 276.9h10.4v10.4h-10.4zM277.2 272.2h10.4v10.4h-10.4zM277.2 277.2h10.4v10.4h-10.4zM278.2 272.7h10.4v10.4h-10.4zM278.2 277.5h10.4v10.4h-10.4zM279.2 273.2h10.4v10.4h-10.4zM280.2 273.6h10.4v10.4h-10.4zM281.2 274.0h10.4v10.4h-10.4zM284.2 273.9h10.4v10.4h-10.4zM285.2 273.3h10.4v10.4h-10.4zM288.2 269.5h10.4v10.4h-10.4zM289.2 268.9h10.4v10.4h-10.4zM290.2 268.3h10.4v10.4h-10.4zM291.2 265.7h10.4v10.4h-10.4zM292.2 265.5h10.4v10.4h-10.4zM293.2 265.5h10.4v10.4h-10.4zM294.2 265.6h10.4v10.4h-10.4zM313.2 266.6h10.4v10.4h-10.4zM313.2 271.8h10.4v10.4h-10.4zM314.2 268.1h10.4v10.4h-10.4zM315.2 268.1h10.4v10.4h-10.4zM316.2 268.0h10.4v10.4h-10.4zM317.2 268.0h10.4v10.4h-10.4zM318.2 267.9h10.4v10.4h-10.4zM319.2 265.5h10.4v10.4h-10.4zM319.2 270.2h10.4v10.4h-10.4zM320.2 265.5h10.4v10.4h-10.4zM320.2 270.2h10.4v10.4h-10.4zM321.2 265.5h10.4v10.4h-10.4zM321.2 270.2h10.4v10.4h-10.4zM322.2 265.5h10.4v10.4h-10.4zM322.2 270.2h10.4v10.4h-10.4zM323.2 265.5h10.4v10.4h-10.4zM323.2 270.2h10.4v10.4h-10.4zM324.2 265.5h10.4v10.4h-10.4zM324.2 270.2h10.4v10.4h-10.4zM325.2 266.7h10.4v10.4h-10.4zM326.2 266.7h10.4v10.4h-10.4zM327.2 266.7h10.4v10.4h-10.4zM328.2 266.7h10.4v10.4h-10.4zM329.2 266.7h10.4v10.4h-10.4zM330.2 266.7h10.4v10.4h-10.4zM331.2 266.4h10.4v10.4h-10.4zM332.2 266.4h10.4v10.4h-10.4zM333.2 266.4h10.4v10.4h-10.4zM334.2 266.4h10.4v10.4h-10.4zM335.2 266.4h10.4v10.4h-10.4zM336.2 266.4h10.4v10.4h-10.4zM337.2 266.4h10.4v10.4h-10.4zM338.2 266.4h10.4v10.4h-10.4zM339.2 266.4h10.4v10.4h-10.4zM340.2 266.4h10.4v10.4h-10.4zM341.2 266.4h10.4v10.4h-10.4zM342.2 266.4h10.4v10.4h-10.4zM343.2 266.4h10.4v10.4h-10.4zM344.2 266.4h10.4v10.4h-10.4zM345.2 266.4h10.4v10.4h-10.4zM346.2 266.4h10.4v10.4h-10.4zM347.2 265.8h10.4v10.4h-10.4zM347.2 270.8h10.4v10.4h-10.4zM348.2 265.8h10.4v10.4h-10.4zM348.2 270.8h10.4v10.4h-10.4zM349.2 265.8h10.4v10.4h-10.4zM349.2 270.8h10.4v10.4h-10.4zM350.2 265.8h10.4v10.4h-10.4zM350.2 270.8h10.4v10.4h-10.4zM351.2 265.8h10.4v10.4h-10.4zM351.2 270.8h10.4v10.4h-10.4zM352.2 265.8h10.4v10.4h-10.4zM352.2 270.8h10.4v10.4h-10.4zM353.2 265.8h10.4v10.4h-10.4zM353.2 270.8h10.4v10.4h-10.4zM354.2 267.4h10.4v10.4h-10.4zM354.2 274.0h10.4v10.4h-10.4zM355.2 266.1h10.4v10.4h-10.4zM355.2 271.3h10.4v10.4h-10.4zM355.2 276.6h10.4v10.4h-10.4zM356.2 266.6h10.4v10.4h-10.4zM356.2 272.3h10.4v10.4h-10.4zM357.2 266.6h10.4v10.4h-10.4zM357.2 272.3h10.4v10.4h-10.4zM358.2 266.5h10.4v10.4h-10.4zM358.2 272.3h10.4v10.4h-10.4zM359.2 266.5h10.4v10.4h-10.4zM359.2 272.3h10.4v10.4h-10.4zM360.2 266.4h10.4v10.4h-10.4zM360.2 272.3h10.4v10.4h-10.4zM361.2 266.4h10.4v10.4h-10.4zM361.2 272.2h10.4v10.4h-10.4zM362.2 266.3h10.4v10.4h-10.4zM362.2 272.2h10.4v10.4h-10.4zM363.2 266.3h10.4v10.4h-10.4zM363.2 272.2h10.4v10.4h-10.4zM364.2 266.2h10.4v10.4h-10.4zM364.2 272.2h10.4v10.4h-10.4zM365.2 266.2h10.4v10.4h-10.4zM365.2 272.1h10.4v10.4h-10.4zM366.2 266.1h10.4v10.4h-10.4zM366.2 272.1h10.4v10.4h-10.4zM367.2 266.1h10.4v10.4h-10.4zM367.2 272.1h10.4v10.4h-10.4zM368.2 266.1h10.4v10.4h-10.4zM368.2 272.1h10.4v10.4h-10.4zM369.2 266.1h10.4v10.4h-10.4zM369.2 272.1h10.4v10.4h-10.4zM370.2 266.1h10.4v10.4h-10.4zM370.2 272.1h10.4v10.4h-10.4zM371.2 266.1h10.4v10.4h-10.4zM371.2 272.1h10.4v10.4h-10.4zM372.2 266.1h10.4v10.4h-10.4zM372.2 272.1h10.4v10.4h-10.4zM373.2 266.1h10.4v10.4h-10.4zM373.2 272.1h10.4v10.4h-10.4zM374.2 266.1h10.4v10.4h-10.4zM374.2 272.1h10.4v10.4h-10.4zM375.2 267.1h10.4v10.4h-10.4zM375.2 273.6h10.4v10.4h-10.4zM376.2 267.3h10.4v10.4h-10.4zM376.2 273.7h10.4v10.4h-10.4zM377.2 267.6h10.4v10.4h-10.4zM377.2 273.8h10.4v10.4h-10.4zM378.2 267.9h10.4v10.4h-10.4zM378.2 274.0h10.4v10.4h-10.4zM379.2 268.1h10.4v10.4h-10.4zM379.2 274.1h10.4v10.4h-10.4zM380.2 268.4h10.4v10.4h-10.4zM380.2 274.3h10.4v10.4h-10.4zM381.2 268.8h10.4v10.4h-10.4zM381.2 274.4h10.4v10.4h-10.4zM382.2 269.3h10.4v10.4h-10.4zM382.2 274.7h10.4v10.4h-10.4zM383.2 269.9h10.4v10.4h-10.4zM383.2 275.0h10.4v10.4h-10.4zM384.2 270.5h10.4v10.4h-10.4zM384.2 275.3h10.4v10.4h-10.4zM385.2 273.3h10.4v10.4h-10.4zM386.2 274.3h10.4v10.4h-10.4zM387.2 274.7h10.4v10.4h-10.4zM388.2 275.2h10.4v10.4h-10.4zM389.2 275.7h10.4v10.4h-10.4zM390.2 276.2h10.4v10.4h-10.4zM391.2 276.7h10.4v10.4h-10.4zM392.2 278.5h10.4v10.4h-10.4zM393.2 279.3h10.4v10.4h-10.4zM394.2 279.8h10.4v10.4h-10.4zM395.2 280.2h10.4v10.4h-10.4zM396.2 280.6h10.4v10.4h-10.4zM400.2 283.4h10.4v10.4h-10.4zM401.2 284.1h10.4v10.4h-10.4zM403.2 286.9h10.4v10.4h-10.4zM404.2 287.9h10.4v10.4h-10.4zM405.2 288.6h10.4v10.4h-10.4zM406.2 289.5h10.4v10.4h-10.4zM407.2 290.4h10.4v10.4h-10.4zM408.2 291.4h10.4v10.4h-10.4zM409.2 292.3h10.4v10.4h-10.4zM410.2 293.0h10.4v10.4h-10.4zM411.2 293.4h10.4v10.4h-10.4zM412.2 293.8h10.4v10.4h-10.4zM413.2 294.2h10.4v10.4h-10.4zM414.2 294.6h10.4v10.4h-10.4zM415.2 295.0h10.4v10.4h-10.4zM416.2 293.0h10.4v10.4h-10.4zM416.2 297.8h10.4v10.4h-10.4zM417.2 293.2h10.4v10.4h-10.4zM417.2 298.3h10.4v10.4h-10.4zM418.2 297.6h10.4v10.4h-10.4zM419.2 299.7h10.4v10.4h-10.4zM420.2 301.9h10.4v10.4h-10.4z"/>
<path fill="#f00" d="M126.1 303.1L127.1 302.8L128.1 302.6L129.1 302.4L130.1 302.2L131.1 302.0L132.1 301.7L133.1 301.5L134.1 301.3L135.1 301.1L136.1 300.9L137.1 300.8L138.1 301.0L139.1 301.2L140.1 301.5L141.1 301.7L142.1 301.9L143.1 302.1L144.1 302.3L145.1 302.5L146.1 302.7L147.1 302.9L148.1 303.3L149.1 303.7L150.1 304.0L151.1 304.4L152.1 304.8L153.1 305.2L154.1 305.6L155.1 306.0L156.1 306.4L157.1 306.8L158.1 306.9L159.1 306.9L160.1 306.9L161.1 306.9L162.1 306.8L163.1 306.5L164.1 306.2L165.1 305.9L166.1 305.6L167.1 305.3L168.1 305.0L169.1 304.8L170.1 304.6L171.1 304.5L172.1 304.3L173.1 304.2L174.1 304.0L175.1 303.9L176.1 303.7L177.1 303.6L178.1 303.4L179.1 303.3L180.1 303.1L181.1 302.9L182.1 302.7L183.1 302.5L184.1 302.3L185.1 302.2L186.1 302.0L187.1 301.8L188.1 301.6L189.1 301.5L190.1 301.8L191.1 302.1L192.1 302.4L193.1 302.7L194.1 302.9L195.1 303.2L196.1 303.4L197.1 303.1L198.1 302.9L199.1 302.6L200.1 302.6L201.1 302.6L202.1 302.6L203.1 302.6L204.1 302.6L205.1 302.6L206.1 302.5L207.1 302.1L208.1 301.7L209.1 301.3L210.1 300.8L211.1 300.1L212.1 298.7L213.1 297.2L214.1 295.7L215.1 294.3L216.1 292.8L217.1 291.5L218.1 290.6L219.1 289.7L220.1 288.8L221.1 287.9L222.1 287.0L223.1 286.2L224.1 286.0L225.1 285.8L226.1 285.6L227.1 285.4L228.1 285.3L229.1 285.3L230.1 285.4L231.1 285.4L232.1 285.5L233.1 285.6L234.1 285.6L235.1 285.7L236.1 285.7L237.1 285.8L238.1 285.8L239.1 285.9L240.1 285.9L241.1 285.7L242.1 285.4L243.1 285.2L244.1 284.9L245.1 284.7L246.1 284.4L247.1 284.2L248.1 283.9L249.1 283.7L250.1 283.5L251.1 283.3L252.1 283.1L253.1 282.8L254.1 282.5L255.1 282.1L256.1 281.7L257.1 281.3L258.1 280.9L259.1 280.6L260.1 280.8L261.1 281.1L262.1 281.3L263.1 281.6L264.1 281.8L265.1 282.1L266.1 282.3L267.1 282.6L268.1 279.5L269.1 276.5L270.1 274.3L271.1 274.2L272.1 274.1L273.1 274.0L274.1 273.9L275.1 273.7L276.1 273.7L277.1 273.9L278.1 274.1L279.1 274.3L280.1 274.5L281.1 274.7L282.1 274.8L283.1 275.0L284.1 275.2L285.1 275.4L286.1 275.6L287.1 275.5L288.1 274.6L289.1 273.7L290.1 272.8L291.1 272.0L292.1 271.1L293.1 270.2L294.1 269.3L295.1 268.4L296.1 267.6L297.1 266.7L298.1 265.9L299.1 265.1L300.1 264.2L301.1 263.4L302.1 262.7L303.1 261.9L304.1 261.1L305.1 260.2L306.1 259.5L307.1 258.8L308.1 258.1L309.1 257.5L310.1 256.8L311.1 256.1L312.1 255.4L313.1 254.7L314.1 254.1L315.1 253.5L316.1 253.6L317.1 253.7L318.1 253.9L319.1 254.0L320.1 254.2L321.1 254.3L322.1 254.4L323.1 254.6L324.1 254.7L325.1 254.8L326.1 255.4L327.1 256.0L328.1 256.5L329.1 257.1L330.1 257.6L331.1 258.2L332.1 258.8L333.1 259.3L334.1 259.9L335.1 260.4L336.1 260.9L337.1 260.3L338.1 259.6L339.1 259.0L340.1 258.4L341.1 257.8L342.1 257.1L343.1 256.5L344.1 255.9L345.1 255.2L346.1 254.6L347.1 254.0L348.1 253.4L349.1 252.7L350.1 252.8L351.1 253.8L352.1 254.8L353.1 255.8L354.1 256.8L355.1 257.8L356.1 258.8L357.1 258.8L358.1 258.4L359.1 258.0L360.1 257.7L361.1 257.3L362.1 256.9L363.1 256.8L364.1 256.8L365.1 256.8L366.1 256.8L367.1 256.8L368.1 256.7L369.1 256.6L370.1 256.5L371.1 256.4L372.1 256.3L373.1 256.2L374.1 256.7L375.1 257.4L376.1 258.1L377.1 258.9L378.1 259.6L379.1 260.3L380.1 260.3L381.1 259.9L382.1 259.5L383.1 259.2L384.1 258.8L385.1 258.4L386.1 258.1L387.1 257.7L388.1 258.5L389.1 259.4L390.1 260.3L391.1 261.2L392.1 262.1L393.1 263.0L394.1 263.9L395.1 264.8L396.1 265.8L397.1 266.4L398.1 266.9L399.1 267.6L400.1 268.1L401.1 268.8L402.1 269.4L403.1 269.9L404.1 270.6L405.1 270.2L406.1 269.8L407.1 269.4L408.1 269.0L409.1 268.6L410.1 268.2L411.1 267.8L412.1 267.4L413.1 266.6L414.1 265.9L415.1 265.1L416.1 264.4L417.1 263.7L418.1 262.9L419.1 263.2L420.1 264.5L421.1 265.7L422.1 267.0L423.1 268.3L424.1 269.6L425.1 270.9L426.1 272.1L427.1 273.2L428.1 273.7L429.1 274.1L430.1 274.5L431.1 274.9L432.1 275.4L433.1 275.8L434.1 275.8L435.1 275.9L436.1 276.0L437.1 276.0L438.1 276.1L439.1 276.4L440.1 277.4L441.1 278.4L442.1 279.4L443.1 280.4L444.1 281.4L445.1 282.4L446.1 283.4L447.1 284.4L448.1 285.4L449.1 286.4L450.1 287.9L451.1 289.4L452.1 290.9L453.1 292.4L454.1 293.9L455.1 295.4L456.1 296.8L457.1 297.7L458.1 298.5L459.1 299.3L460.1 300.2L461.1 301.0L462.1 301.7L463.1 301.4L464.1 301.1L465.1 300.8L466.1 301.1L467.1 301.3L468.1 301.6L469.1 301.9L470.1 302.1L471.1 302.4L472.1 302.4L473.1 302.4L474.1 302.4L475.1 302.4L476.1 302.4L477.1 302.4L478.1 302.4L479.1 302.7L480.1 305.2L481.1 307.7L482.1 310.2L482.5 311.2L482.5 311.2L482.1 311.0L481.1 310.5L480.1 310.0L479.1 309.5L478.1 309.0L477.1 308.5L476.1 308.0L475.1 308.0L474.1 308.4L473.1 308.8L472.1 309.3L471.1 309.7L470.1 309.1L469.1 308.4L468.1 307.7L467.1 306.9L466.1 306.4L465.1 305.9L464.1 305.4L463.1 304.9L462.1 304.4L461.1 304.0L460.1 303.5L459.1 303.0L458.1 302.2L457.1 301.1L456.1 300.1L455.1 299.0L454.1 297.9L453.1 296.8L452.1 295.8L451.1 294.7L450.1 293.4L449.1 292.0L448.1 290.6L447.1 289.2L446.1 287.8L445.1 286.5L444.1 285.1L443.1 283.7L442.1 282.7L441.1 281.8L440.1 281.0L439.1 280.2L438.1 279.3L437.1 278.5L436.1 277.6L435.1 276.8L434.1 276.2L433.1 275.8L432.1 275.4L431.1 274.9L430.1 274.5L429.1 274.1L428.1 273.7L427.1 273.2L426.1 272.1L425.1 271.7L424.1 271.2L423.1 270.6L422.1 269.6L421.1 268.6L420.1 267.7L419.1 266.7L418.1 266.6L417.1 267.3L416.1 268.0L415.1 268.7L414.1 269.4L413.1 270.1L412.1 270.9L411.1 271.4L410.1 271.9L409.1 272.4L408.1 272.9L407.1 273.4L406.1 273.9L405.1 273.9L404.1 273.5L403.1 273.1L402.1 272.7L401.1 272.3L400.1 271.8L399.1 271.4L398.1 271.0L397.1 270.6L396.1 270.2L395.1 269.8L394.1 269.4L393.1 269.0L392.1 268.6L391.1 268.2L390.1 267.8L389.1 267.7L388.1 267.8L387.1 267.8L386.1 267.9L385.1 268.0L384.1 268.1L383.1 268.1L382.1 268.3L381.1 268.4L380.1 268.5L379.1 268.6L378.1 268.7L377.1 268.8L376.1 268.9L375.1 268.9L374.1 268.9L373.1 268.9L372.1 268.9L371.1 268.9L370.1 268.9L369.1 269.0L368.1 269.2L367.1 269.4L366.1 269.6L365.1 269.8L364.1 270.0L363.1 270.2L362.1 270.2L361.1 269.5L360.1 268.8L359.1 268.1L358.1 267.4L357.1 266.7L356.1 266.0L355.1 265.3L354.1 265.3L353.1 265.5L352.1 265.7L351.1 265.9L350.1 266.1L349.1 266.3L348.1 266.5L347.1 267.1L346.1 268.7L345.1 270.4L344.1 272.0L343.1 273.6L342.1 273.6L341.1 273.4L340.1 273.2L339.1 273.0L338.1 272.8L337.1 272.6L336.1 272.4L335.1 272.1L334.1 271.6L333.1 271.1L332.1 270.6L331.1 270.1L330.1 269.6L329.1 269.1L328.1 268.6L327.1 268.1L326.1 268.1L325.1 268.0L324.1 267.9L323.1 267.8L322.1 267.7L321.1 267.6L320.1 267.5L319.1 267.4L318.1 267.4L317.1 267.3L316.1 267.2L315.1 267.1L314.1 267.0L313.1 266.9L312.1 266.9L311.1 267.0L310.1 267.2L309.1 267.3L308.1 267.5L307.1 267.7L306.1 267.8L305.1 268.0L304.1 268.1L303.1 268.0L302.1 269.9L301.1 272.1L300.1 274.3L299.1 276.5L298.1 278.7L297.1 280.9L296.1 283.1L295.1 285.3L294.1 287.5L293.1 288.8L292.1 288.7L291.1 288.5L290.1 288.4L289.1 288.2L288.1 288.1L287.1 287.9L286.1 287.8L285.1 287.7L284.1 287.5L283.1 287.4L282.1 287.2L281.1 287.1L280.1 287.0L279.1 287.0L278.1 287.6L277.1 288.3L276.1 288.9L275.1 289.5L274.1 290.2L273.1 290.8L272.1 291.4L271.1 292.1L270.1 292.7L269.1 293.4L268.1 294.1L267.1 294.8L266.1 295.6L265.1 295.8L264.1 295.7L263.1 295.6L262.1 295.4L261.1 295.3L260.1 295.2L259.1 295.1L258.1 295.1L257.1 295.0L256.1 294.9L255.1 294.8L254.1 294.7L253.1 294.6L252.1 294.6L251.1 294.6L250.1 294.6L249.1 294.6L248.1 294.6L247.1 294.6L246.1 294.6L245.1 294.7L244.1 295.1L243.1 295.5L242.1 295.9L241.1 296.3L240.1 296.7L239.1 297.1L238.1 297.6L237.1 298.3L236.1 299.1L235.1 299.8L234.1 300.5L233.1 301.3L232.1 301.8L231.1 302.3L230.1 302.0L229.1 301.0L228.1 299.9L227.1 298.9L226.1 297.8L225.1 296.8L224.1 295.7L223.1 294.7L222.1 294.9L221.1 295.7L220.1 296.5L219.1 297.3L218.1 298.1L217.1 299.1L216.1 300.7L215.1 302.4L214.1 304.0L213.1 305.2L212.1 306.2L211.1 306.6L210.1 306.6L209.1 306.6L208.1 306.6L207.1 306.6L206.1 306.6L205.1 307.0L204.1 307.6L203.1 308.1L202.1 308.6L201.1 308.7L200.1 308.5L199.1 308.3L198.1 308.5L197.1 308.8L196.1 309.1L195.1 309.4L194.1 309.7L193.1 310.1L192.1 310.6L191.1 311.2L190.1 311.8L189.1 312.4L188.1 313.0L187.1 313.6L186.1 314.1L185.1 314.1L184.1 314.1L183.1 314.1L182.1 314.1L181.1 314.1L180.1 314.1L179.1 314.1L178.1 314.1L177.1 314.1L176.1 314.1L175.1 313.9L174.1 313.4L173.1 312.9L172.1 312.4L171.1 312.0L170.1 311.5L169.1 311.0L168.1 310.5L167.1 310.1L166.1 311.1L165.1 312.0L164.1 312.9L163.1 313.8L162.1 314.8L161.1 315.7L160.1 316.6L159.1 317.3L158.1 317.6L157.1 317.9L156.1 318.3L155.1 318.6L154.1 319.0L153.1 319.3L152.1 319.1L151.1 318.8L150.1 318.4L149.1 318.1L148.1 317.8L147.1 317.4L146.1 317.1L145.1 316.6L144.1 316.2L143.1 315.7L142.1 315.3L141.1 314.8L140.1 314.4L139.1 313.6L138.1 312.8L137.1 312.0L136.1 311.2L135.1 310.4L134.1 309.6L133.1 308.8L132.1 308.0L131.1 307.2L130.1 306.4L129.1 305.6L128.1 304.7L127.1 303.7L126.1 303.1Z"/><path fill="#f00" d="M119.8 303.1a6.25 6.25 0 1 0 12.5 0a6.25 6.25 0 1 0 -12.5 0zM130.4 300.8a6.25 6.25 0 1 0 12.5 0a6.25 6.25 0 1 0 -12.5 0zM141.1 302.9a6.25 6.25 0 1 0 12.5 0a6.25 6.25 0 1 0 -12.5 0zM151.1 306.9a6.25 6.25 0 1 0 12.5 0a6.25 6.25 0 1 0 -12.5 0zM155.8 306.9a6.25 6.25 0 1 0 12.5 0a6.25 6.25 0 1 0 -12.5 0zM162.3 304.9a6.25 6.25 0 1 0 12.5 0a6.25 6.25 0 1 0 -12.5 0zM171.8 303.4a6.25 6.25 0 1 0 12.5 0a6.25 6.25 0 1 0 -12.5 0zM182.8 301.4a6.25 6.25 0 1 0 12.5 0a6.25 6.25 0 1 0 -12.5 0zM189.6 303.4a6.25 6.25 0 1 0 12.5 0a6.25 6.25 0 1 0 -12.5 0zM193.1 302.6a6.25 6.25 0 1 0 12.5 0a6.25 6.25 0 1 0 -12.5 0zM199.8 302.6a6.25 6.25 0 1 0 12.5 0a6.25 6.25 0 1 0 -12.5 0zM204.6 300.6a6.25 6.25 0 1 0 12.5 0a6.25 6.25 0 1 0 -12.5 0zM210.7 291.6a6.25 6.25 0 1 0 12.5 0a6.25 6.25 0 1 0 -12.5 0zM216.8 286.2a6.25 6.25 0 1 0 12.5 0a6.25 6.25 0 1 0 -12.5 0zM221.4 285.2a6.25 6.25 0 1 0 12.5 0a6.25 6.25 0 1 0 -12.5 0zM233.8 285.9a6.25 6.25 0 1 0 12.5 0a6.25 6.25 0 1 0 -12.5 0zM241.8 283.9a6.25 6.25 0 1 0 12.5 0a6.25 6.25 0 1 0 -12.5 0zM247.2 282.8a6.25 6.25 0 1 0 12.5 0a6.25 6.25 0 1 0 -12.5 0zM252.8 280.6a6.25 6.25 0 1 0 12.5 0a6.25 6.25 0 1 0 -12.5 0zM260.9 282.6a6.25 6.25 0 1 0 12.5 0a6.25 6.25 0 1 0 -12.5 0zM263.6 274.4a6.25 6.25 0 1 0 12.5 0a6.25 6.25 0 1 0 -12.5 0zM269.6 273.6a6.25 6.25 0 1 0 12.5 0a6.25 6.25 0 1 0 -12.5 0zM280.6 275.8a6.25 6.25 0 1 0 12.5 0a6.25 6.25 0 1 0 -12.5 0zM291.4 266.2a6.25 6.25 0 1 0 12.5 0a6.25 6.25 0 1 0 -12.5 0zM299.4 259.9a6.25 6.25 0 1 0 12.5 0a6.25 6.25 0 1 0 -12.5 0zM308.8 253.4a6.25 6.25 0 1 0 12.5 0a6.25 6.25 0 1 0 -12.5 0zM318.9 254.8a6.25 6.25 0 1 0 12.5 0a6.25 6.25 0 1 0 -12.5 0zM329.8 260.9a6.25 6.25 0 1 0 12.5 0a6.25 6.25 0 1 0 -12.5 0zM337.2 256.2a6.25 6.25 0 1 0 12.5 0a6.25 6.25 0 1 0 -12.5 0zM343.4 252.3a6.25 6.25 0 1 0 12.5 0a6.25 6.25 0 1 0 -12.5 0zM350.1 259.1a6.25 6.25 0 1 0 12.5 0a6.25 6.25 0 1 0 -12.5 0zM356.1 256.9a6.25 6.25 0 1 0 12.5 0a6.25 6.25 0 1 0 -12.5 0zM361.8 256.8a6.25 6.25 0 1 0 12.5 0a6.25 6.25 0 1 0 -12.5 0zM367.1 256.1a6.25 6.25 0 1 0 12.5 0a6.25 6.25 0 1 0 -12.5 0zM373.1 260.6a6.25 6.25 0 1 0 12.5 0a6.25 6.25 0 1 0 -12.5 0zM380.9 257.6a6.25 6.25 0 1 0 12.5 0a6.25 6.25 0 1 0 -12.5 0zM389.9 265.8a6.25 6.25 0 1 0 12.5 0a6.25 6.25 0 1 0 -12.5 0zM397.9 270.6a6.25 6.25 0 1 0 12.5 0a6.25 6.25 0 1 0 -12.5 0zM405.9 267.4a6.25 6.25 0 1 0 12.5 0a6.25 6.25 0 1 0 -12.5 0zM412.4 262.6a6.25 6.25 0 1 0 12.5 0a6.25 6.25 0 1 0 -12.5 0zM420.6 273.1a6.25 6.25 0 1 0 12.5 0a6.25 6.25 0 1 0 -12.5 0zM426.8 275.8a6.25 6.25 0 1 0 12.5 0a6.25 6.25 0 1 0 -12.5 0zM432.6 276.1a6.25 6.25 0 1 0 12.5 0a6.25 6.25 0 1 0 -12.5 0zM442.8 286.2a6.25 6.25 0 1 0 12.5 0a6.25 6.25 0 1 0 -12.5 0zM449.8 296.8a6.25 6.25 0 1 0 12.5 0a6.25 6.25 0 1 0 -12.5 0zM455.8 301.8a6.25 6.25 0 1 0 12.5 0a6.25 6.25 0 1 0 -12.5 0zM458.8 300.8a6.25 6.25 0 1 0 12.5 0a6.25 6.25 0 1 0 -12.5 0zM464.9 302.4a6.25 6.25 0 1 0 12.5 0a6.25 6.25 0 1 0 -12.5 0zM472.8 302.4a6.25 6.25 0 1 0 12.5 0a6.25 6.25 0 1 0 -12.5 0zM476.2 311.2a6.25 6.25 0 1 0 12.5 0a6.25 6.25 0 1 0 -12.5 0zM119.8 302.8a6.25 6.25 0 1 0 12.5 0a6.25 6.25 0 1 0 -12.5 0zM122.7 305.4a6.25 6.25 0 1 0 12.5 0a6.25 6.25 0 1 0 -12.5 0zM133.8 314.4a6.25 6.25 0 1 0 12.5 0a6.25 6.25 0 1 0 -12.5 0zM140.2 317.2a6.25 6.25 0 1 0 12.5 0a6.25 6.25 0 1 0 -12.5 0zM146.7 319.4a6.25 6.25 0 1 0 12.5 0a6.25 6.25 0 1 0 -12.5 0zM153.2 317.1a6.25 6.25 0 1 0 12.5 0a6.25 6.25 0 1 0 -12.5 0zM160.9 310.1a6.25 6.25 0 1 0 12.5 0a6.25 6.25 0 1 0 -12.5 0zM169.2 314.1a6.25 6.25 0 1 0 12.5 0a6.25 6.25 0 1 0 -12.5 0zM174.8 314.1a6.25 6.25 0 1 0 12.5 0a6.25 6.25 0 1 0 -12.5 0zM180.1 314.1a6.25 6.25 0 1 0 12.5 0a6.25 6.25 0 1 0 -12.5 0zM186.8 310.1a6.25 6.25 0 1 0 12.5 0a6.25 6.25 0 1 0 -12.5 0zM192.8 308.2a6.25 6.25 0 1 0 12.5 0a6.25 6.25 0 1 0 -12.5 0zM195.4 308.9a6.25 6.25 0 1 0 12.5 0a6.25 6.25 0 1 0 -12.5 0zM199.8 306.6a6.25 6.25 0 1 0 12.5 0a6.25 6.25 0 1 0 -12.5 0zM205.4 306.6a6.25 6.25 0 1 0 12.5 0a6.25 6.25 0 1 0 -12.5 0zM207.7 304.4a6.25 6.25 0 1 0 12.5 0a6.25 6.25 0 1 0 -12.5 0zM211.1 298.8a6.25 6.25 0 1 0 12.5 0a6.25 6.25 0 1 0 -12.5 0zM216.6 294.4a6.25 6.25 0 1 0 12.5 0a6.25 6.25 0 1 0 -12.5 0zM224.3 302.6a6.25 6.25 0 1 0 12.5 0a6.25 6.25 0 1 0 -12.5 0zM226.8 301.4a6.25 6.25 0 1 0 12.5 0a6.25 6.25 0 1 0 -12.5 0zM232.3 297.2a6.25 6.25 0 1 0 12.5 0a6.25 6.25 0 1 0 -12.5 0zM239.2 294.6a6.25 6.25 0 1 0 12.5 0a6.25 6.25 0 1 0 -12.5 0zM245.9 294.6a6.25 6.25 0 1 0 12.5 0a6.25 6.25 0 1 0 -12.5 0zM254.1 295.2a6.25 6.25 0 1 0 12.5 0a6.25 6.25 0 1 0 -12.5 0zM259.6 295.9a6.25 6.25 0 1 0 12.5 0a6.25 6.25 0 1 0 -12.5 0zM262.2 293.8a6.25 6.25 0 1 0 12.5 0a6.25 6.25 0 1 0 -12.5 0zM273.1 286.9a6.25 6.25 0 1 0 12.5 0a6.25 6.25 0 1 0 -12.5 0zM287.2 288.9a6.25 6.25 0 1 0 12.5 0a6.25 6.25 0 1 0 -12.5 0zM296.8 267.9a6.25 6.25 0 1 0 12.5 0a6.25 6.25 0 1 0 -12.5 0zM297.8 268.1a6.25 6.25 0 1 0 12.5 0a6.25 6.25 0 1 0 -12.5 0zM305.9 266.9a6.25 6.25 0 1 0 12.5 0a6.25 6.25 0 1 0 -12.5 0zM320.9 268.1a6.25 6.25 0 1 0 12.5 0a6.25 6.25 0 1 0 -12.5 0zM329.1 272.2a6.25 6.25 0 1 0 12.5 0a6.25 6.25 0 1 0 -12.5 0zM336.8 273.8a6.25 6.25 0 1 0 12.5 0a6.25 6.25 0 1 0 -12.5 0zM341.1 266.6a6.25 6.25 0 1 0 12.5 0a6.25 6.25 0 1 0 -12.5 0zM348.6 265.1a6.25 6.25 0 1 0 12.5 0a6.25 6.25 0 1 0 -12.5 0zM356.1 270.4a6.25 6.25 0 1 0 12.5 0a6.25 6.25 0 1 0 -12.5 0zM363.4 268.9a6.25 6.25 0 1 0 12.5 0a6.25 6.25 0 1 0 -12.5 0zM370.8 268.9a6.25 6.25 0 1 0 12.5 0a6.25 6.25 0 1 0 -12.5 0zM376.8 268.1a6.25 6.25 0 1 0 12.5 0a6.25 6.25 0 1 0 -12.5 0zM383.4 267.6a6.25 6.25 0 1 0 12.5 0a6.25 6.25 0 1 0 -12.5 0zM391.4 270.9a6.25 6.25 0 1 0 12.5 0a6.25 6.25 0 1 0 -12.5 0zM399.4 274.1a6.25 6.25 0 1 0 12.5 0a6.25 6.25 0 1 0 -12.5 0zM405.9 270.9a6.25 6.25 0 1 0 12.5 0a6.25 6.25 0 1 0 -12.5 0zM412.4 266.2a6.25 6.25 0 1 0 12.5 0a6.25 6.25 0 1 0 -12.5 0zM417.1 270.9a6.25 6.25 0 1 0 12.5 0a6.25 6.25 0 1 0 -12.5 0zM422.2 273.2a6.25 6.25 0 1 0 12.5 0a6.25 6.25 0 1 0 -12.5 0zM428.6 276.6a6.25 6.25 0 1 0 12.5 0a6.25 6.25 0 1 0 -12.5 0zM436.6 283.2a6.25 6.25 0 1 0 12.5 0a6.25 6.25 0 1 0 -12.5 0zM444.4 294.2a6.25 6.25 0 1 0 12.5 0a6.25 6.25 0 1 0 -12.5 0zM452.4 302.8a6.25 6.25 0 1 0 12.5 0a6.25 6.25 0 1 0 -12.5 0zM460.4 306.6a6.25 6.25 0 1 0 12.5 0a6.25 6.25 0 1 0 -12.5 0zM464.8 309.8a6.25 6.25 0 1 0 12.5 0a6.25 6.25 0 1 0 -12.5 0zM469.4 307.8a6.25 6.25 0 1 0 12.5 0a6.25 6.25 0 1 0 -12.5 0zM476.2 311.1a6.25 6.25 0 1 0 12.5 0a6.25 6.25 0 1 0 -12.5 0z"/>
<path fill="#00f" d="M127.1 127.6L128.1 128.0L129.1 128.4L130.1 128.8L131.1 128.9L132.1 128.9L133.1 128.9L134.1 129.2L135.1 130.1L136.1 130.9L137.1 131.8L138.1 131.8L139.1 131.5L140.1 131.2L141.1 130.9L142.1 130.6L143.1 130.3L144.1 130.6L145.1 131.5L146.1 132.4L147.1 133.3L148.1 133.7L149.1 133.1L150.1 132.5L151.1 131.8L152.1 132.1L153.1 132.6L154.1 133.1L155.1 132.7L156.1 131.7L157.1 130.7L158.1 129.7L159.1 129.3L160.1 129.2L161.1 129.0L162.1 128.9L163.1 128.9L164.1 128.9L165.1 128.9L166.1 129.2L167.1 129.6L168.1 129.9L169.1 129.7L170.1 129.0L171.1 128.4L172.1 127.7L173.1 128.7L174.1 130.0L175.1 131.4L176.1 132.7L177.1 131.3L178.1 129.9L179.1 128.5L180.1 127.1L181.1 125.7L182.1 124.4L183.1 124.1L184.1 124.6L185.1 125.2L186.1 125.7L187.1 126.4L188.1 127.2L189.1 128.0L190.1 127.9L191.1 127.4L192.1 126.8L193.1 126.3L194.1 126.2L195.1 126.0L196.1 125.9L197.1 126.2L198.1 126.9L199.1 127.6L200.1 128.3L201.1 128.8L202.1 128.1L203.1 127.5L204.1 126.8L205.1 126.1L206.1 125.4L207.1 124.7L208.1 124.8L209.1 125.2L210.1 125.6L211.1 125.4L212.1 124.8L213.1 124.2L214.1 123.6L215.1 124.3L216.1 125.0L217.1 125.6L218.1 126.3L219.1 125.8L220.1 125.2L221.1 124.5L222.1 123.8L223.1 123.2L224.1 122.5L225.1 121.9L226.1 121.2L227.1 120.6L228.1 120.5L229.1 120.5L230.1 120.5L231.1 121.2L232.1 122.4L233.1 123.6L234.1 124.8L235.1 126.0L236.1 125.4L237.1 124.1L238.1 122.7L239.1 121.4L240.1 120.0L241.1 118.7L242.1 117.3L243.1 115.9L244.1 114.6L245.1 114.4L246.1 115.4L247.1 116.4L248.1 117.4L249.1 117.5L250.1 116.9L251.1 116.3L252.1 115.7L253.1 116.3L254.1 117.1L255.1 117.7L256.1 116.9L257.1 116.0L258.1 115.2L259.1 114.9L260.1 114.7L261.1 114.6L262.1 114.4L263.1 114.7L264.1 115.1L265.1 115.5L266.1 115.9L267.1 116.2L268.1 116.5L269.1 116.8L270.1 116.0L271.1 114.8L272.1 113.7L273.1 112.5L274.1 113.3L275.1 114.2L276.1 115.0L277.1 115.0L278.1 114.2L279.1 113.3L280.1 112.5L281.1 113.0L282.1 113.6L283.1 114.1L284.1 113.5L285.1 111.7L286.1 109.8L287.1 108.0L288.1 109.0L289.1 110.1L290.1 111.1L291.1 111.7L292.1 110.7L293.1 109.7L294.1 108.7L295.1 109.6L296.1 110.4L297.1 111.3L298.1 112.2L299.1 111.6L300.1 110.2L301.1 108.8L302.1 107.3L303.1 105.9L304.1 104.5L305.1 105.3L306.1 106.7L307.1 108.0L308.1 109.4L309.1 110.8L310.1 110.8L311.1 109.9L312.1 109.0L313.1 108.1L314.1 107.3L315.1 107.6L316.1 108.8L317.1 109.9L318.1 110.9L319.1 111.7L320.1 112.4L321.1 111.7L322.1 110.5L323.1 109.4L324.1 108.2L325.1 108.0L326.1 109.1L327.1 110.3L328.1 111.4L329.1 111.6L330.1 111.2L331.1 110.8L332.1 110.4L333.1 109.9L334.1 109.4L335.1 109.0L336.1 108.6L337.1 108.2L338.1 107.8L339.1 107.3L340.1 106.4L341.1 105.5L342.1 104.7L343.1 105.1L344.1 106.4L345.1 107.7L346.1 109.0L347.1 110.0L348.1 111.0L349.1 112.1L350.1 113.1L351.1 114.1L352.1 113.7L353.1 112.7L354.1 111.6L355.1 110.6L356.1 109.6L357.1 109.1L358.1 109.9L359.1 110.6L360.1 111.4L361.1 112.1L362.1 111.8L363.1 111.4L364.1 111.2L365.1 111.6L366.1 112.1L367.1 112.5L368.1 112.5L369.1 111.8L370.1 111.2L371.1 110.6L372.1 110.2L373.1 109.8L374.1 109.8L375.1 110.6L376.1 111.4L377.1 112.1L378.1 112.9L379.1 113.3L380.1 113.2L381.1 113.2L382.1 113.7L383.1 114.2L384.1 114.7L385.1 114.6L386.1 114.0L387.1 113.4L388.1 112.8L389.1 112.3L390.1 111.8L391.1 111.3L392.1 111.8L393.1 112.7L394.1 113.6L395.1 114.2L396.1 113.4L397.1 112.5L398.1 111.6L399.1 111.3L400.1 111.8L401.1 112.3L402.1 112.5L403.1 112.3L404.1 112.1L405.1 111.9L406.1 111.9L407.1 112.7L408.1 113.4L409.1 114.3L410.1 115.5L411.1 116.8L412.1 117.6L413.1 117.4L414.1 117.1L415.1 116.9L416.1 116.6L417.1 117.6L418.1 118.8L419.1 119.9L420.1 120.6L421.1 121.0L422.1 121.3L423.1 121.4L424.1 121.2L425.1 121.1L426.1 121.0L427.1 122.0L428.1 123.1L429.1 124.1L430.1 124.8L431.1 124.8L432.1 124.8L433.1 124.8L434.1 126.0L435.1 127.2L436.1 127.7L437.1 126.9L438.1 126.1L439.1 125.2L440.1 125.0L441.1 125.4L442.1 125.8L443.1 126.2L444.1 126.3L445.1 126.2L446.1 126.1L447.1 126.0L448.1 126.2L449.1 127.1L450.1 127.9L451.1 128.7L452.1 128.5L453.1 128.0L454.1 127.5L455.1 127.0L456.1 126.7L457.1 126.8L458.1 126.9L459.1 126.1L460.1 124.8L461.1 123.5L462.1 123.8L463.1 125.1L464.1 126.4L465.1 127.8L466.1 129.1L467.1 129.7L468.1 129.8L469.1 130.0L470.1 130.7L471.1 131.4L472.1 131.3L473.1 130.2L474.1 129.1L475.1 128.0L476.1 128.5L477.1 129.4L478.1 130.3L479.1 131.1L480.1 132.0L481.1 132.8L482.1 133.5L482.1 133.7L481.1 133.3L480.1 132.9L479.1 132.4L478.1 132.3L477.1 132.3L476.1 132.3L475.1 132.3L474.1 132.3L473.1 132.3L472.1 132.2L471.1 131.8L470.1 131.3L469.1 130.8L468.1 130.8L467.1 130.8L466.1 130.8L465.1 130.4L464.1 129.7L463.1 129.0L462.1 128.6L461.1 128.6L460.1 128.6L459.1 128.6L458.1 128.6L457.1 128.6L456.1 128.6L455.1 128.6L454.1 128.6L453.1 128.6L452.1 128.6L451.1 128.7L450.1 128.6L449.1 128.6L448.1 128.6L447.1 128.6L446.1 128.6L445.1 128.6L444.1 128.6L443.1 128.6L442.1 128.6L441.1 128.6L440.1 128.6L439.1 128.7L438.1 128.8L437.1 129.0L436.1 128.8L435.1 127.6L434.1 126.4L433.1 125.3L432.1 125.3L431.1 125.3L430.1 125.3L429.1 124.5L428.1 123.5L427.1 122.5L426.1 122.0L425.1 122.0L424.1 122.0L423.1 122.0L422.1 122.0L421.1 122.0L420.1 122.0L419.1 121.0L418.1 120.0L417.1 119.0L416.1 118.7L415.1 118.7L414.1 118.7L413.1 118.4L412.1 117.9L411.1 117.3L410.1 116.7L409.1 116.3L408.1 115.9L407.1 115.4L406.1 115.4L405.1 115.4L404.1 115.4L403.1 115.4L402.1 115.4L401.1 115.4L400.1 115.4L399.1 115.4L398.1 115.4L397.1 115.4L396.1 115.4L395.1 115.4L394.1 115.4L393.1 115.3L392.1 115.1L391.1 115.0L390.1 114.9L389.1 114.9L388.1 114.9L387.1 114.9L386.1 114.9L385.1 114.9L384.1 114.9L383.1 114.7L382.1 114.5L381.1 114.3L380.1 114.3L379.1 114.3L378.1 114.3L377.1 114.1L376.1 113.8L375.1 113.5L374.1 113.3L373.1 113.3L372.1 113.3L371.1 113.3L370.1 113.3L369.1 113.3L368.1 113.3L367.1 113.3L366.1 113.3L365.1 113.3L364.1 113.3L363.1 113.3L362.1 113.3L361.1 113.3L360.1 113.3L359.1 113.3L358.1 113.3L357.1 113.3L356.1 113.3L355.1 113.3L354.1 113.2L353.1 113.0L352.1 113.7L351.1 114.1L350.1 113.1L349.1 112.8L348.1 112.7L347.1 112.1L346.1 111.4L345.1 110.8L344.1 110.8L343.1 110.8L342.1 110.8L341.1 110.8L340.1 110.8L339.1 110.8L338.1 110.8L337.1 110.8L336.1 110.8L335.1 110.8L334.1 110.8L333.1 110.8L332.1 110.8L331.1 110.8L330.1 111.2L329.1 111.6L328.1 111.4L327.1 110.8L326.1 110.8L325.1 110.8L324.1 110.8L323.1 110.8L322.1 110.8L321.1 111.7L320.1 112.4L319.1 111.7L318.1 110.9L317.1 111.0L316.1 111.1L315.1 111.1L314.1 111.1L313.1 111.1L312.1 111.2L311.1 111.5L310.1 111.9L309.1 112.2L308.1 112.2L307.1 112.2L306.1 112.2L305.1 112.2L304.1 112.2L303.1 112.2L302.1 112.2L301.1 112.2L300.1 112.2L299.1 112.3L298.1 112.8L297.1 113.3L296.1 113.8L295.1 113.8L294.1 113.8L293.1 113.8L292.1 113.8L291.1 113.8L290.1 113.8L289.1 113.8L288.1 113.8L287.1 113.8L286.1 113.9L285.1 114.2L284.1 114.6L283.1 114.9L282.1 114.9L281.1 114.9L280.1 114.9L279.1 115.0L278.1 115.2L277.1 115.3L276.1 115.4L275.1 115.4L274.1 115.4L273.1 115.5L272.1 116.1L271.1 116.6L270.1 117.2L269.1 117.2L268.1 117.2L267.1 117.2L266.1 117.2L265.1 117.2L264.1 117.2L263.1 117.2L262.1 117.2L261.1 117.2L260.1 117.2L259.1 117.2L258.1 117.2L257.1 117.2L256.1 117.6L255.1 118.1L254.1 118.6L253.1 118.8L252.1 118.8L251.1 118.8L250.1 118.8L249.1 118.8L248.1 118.8L247.1 118.8L246.1 118.8L245.1 118.8L244.1 118.8L243.1 119.2L242.1 119.7L241.1 120.2L240.1 120.4L239.1 121.4L238.1 122.7L237.1 124.1L236.1 125.4L235.1 126.0L234.1 127.0L233.1 126.5L232.1 125.9L231.1 125.4L230.1 125.3L229.1 125.3L228.1 125.3L227.1 125.3L226.1 125.3L225.1 125.3L224.1 125.3L223.1 125.3L222.1 125.3L221.1 125.3L220.1 125.5L219.1 125.8L218.1 126.3L217.1 126.1L216.1 126.1L215.1 126.1L214.1 126.1L213.1 126.1L212.1 126.1L211.1 126.1L210.1 126.1L209.1 126.1L208.1 126.1L207.1 126.1L206.1 126.1L205.1 126.1L204.1 126.8L203.1 127.5L202.1 128.1L201.1 128.8L200.1 128.3L199.1 128.3L198.1 128.3L197.1 128.3L196.1 128.3L195.1 128.3L194.1 128.3L193.1 128.3L192.1 128.3L191.1 128.3L190.1 128.3L189.1 128.3L188.1 128.3L187.1 128.3L186.1 128.3L185.1 128.3L184.1 128.3L183.1 128.3L182.1 128.3L181.1 128.3L180.1 128.3L179.1 128.5L178.1 129.9L177.1 131.3L176.1 132.7L175.1 131.4L174.1 131.1L173.1 131.1L172.1 131.1L171.1 131.1L170.1 131.1L169.1 131.1L168.1 131.1L167.1 131.1L166.1 131.1L165.1 131.1L164.1 131.1L163.1 131.1L162.1 131.1L161.1 131.1L160.1 131.1L159.1 131.1L158.1 131.6L157.1 132.1L156.1 132.6L155.1 132.7L154.1 133.1L153.1 132.7L152.1 132.7L151.1 132.7L150.1 132.7L149.1 133.1L148.1 133.7L147.1 133.8L146.1 134.3L145.1 133.8L144.1 133.3L143.1 132.8L142.1 132.7L141.1 132.7L140.1 132.7L139.1 132.4L138.1 131.8L137.1 131.8L136.1 130.9L135.1 130.1L134.1 129.2L133.1 128.9L132.1 128.9L131.1 128.9L130.1 128.8L129.1 128.4L128.1 128.0L127.1 128.0Z"/><path fill="#00f" d="M127.1 119.2l7.5 12.6h-15.0zM130.3 120.5l7.5 12.6h-15.0zM133.8 120.5l7.5 12.6h-15.0zM137.3 123.6l7.5 12.6h-15.0zM143.6 121.7l7.5 12.6h-15.0zM147.8 125.5l7.5 12.6h-15.0zM151.3 123.3l7.5 12.6h-15.0zM154.5 124.9l7.5 12.6h-15.0zM158.3 121.1l7.5 12.6h-15.0zM161.5 120.5l7.5 12.6h-15.0zM165.3 120.5l7.5 12.6h-15.0zM168.5 121.7l7.5 12.6h-15.0zM172.3 119.2l7.5 12.6h-15.0zM176.1 124.3l7.5 12.6h-15.0zM182.5 115.4l7.5 12.6h-15.0zM186.5 117.5l7.5 12.6h-15.0zM189.5 119.9l7.5 12.6h-15.0zM192.7 118.0l7.5 12.6h-15.0zM196.5 117.4l7.5 12.6h-15.0zM201.0 120.5l7.5 12.6h-15.0zM207.4 116.1l7.5 12.6h-15.0zM210.5 117.4l7.5 12.6h-15.0zM214.1 115.2l7.5 12.6h-15.0zM218.2 118.0l7.5 12.6h-15.0zM222.0 115.5l7.5 12.6h-15.0zM227.2 112.1l7.5 12.6h-15.0zM230.5 112.1l7.5 12.6h-15.0zM235.4 118.0l7.5 12.6h-15.0zM244.6 105.5l7.5 12.6h-15.0zM248.5 109.4l7.5 12.6h-15.0zM252.3 107.2l7.5 12.6h-15.0zM255.0 109.4l7.5 12.6h-15.0zM258.3 106.6l7.5 12.6h-15.0zM262.3 106.0l7.5 12.6h-15.0zM265.5 107.3l7.5 12.6h-15.0zM269.3 108.5l7.5 12.6h-15.0zM273.1 104.1l7.5 12.6h-15.0zM276.6 107.0l7.5 12.6h-15.0zM280.1 104.1l7.5 12.6h-15.0zM283.6 106.0l7.5 12.6h-15.0zM287.1 99.6l7.5 12.6h-15.0zM290.9 103.5l7.5 12.6h-15.0zM294.1 100.3l7.5 12.6h-15.0zM298.5 104.1l7.5 12.6h-15.0zM304.3 95.8l7.5 12.6h-15.0zM309.5 102.9l7.5 12.6h-15.0zM314.5 98.5l7.5 12.6h-15.0zM317.5 102.0l7.5 12.6h-15.0zM320.3 104.2l7.5 12.6h-15.0zM324.7 99.1l7.5 12.6h-15.0zM328.5 103.5l7.5 12.6h-15.0zM332.0 102.0l7.5 12.6h-15.0zM335.5 100.4l7.5 12.6h-15.0zM339.0 99.0l7.5 12.6h-15.0zM342.5 95.9l7.5 12.6h-15.0zM346.0 100.5l7.5 12.6h-15.0zM351.4 106.0l7.5 12.6h-15.0zM356.8 100.5l7.5 12.6h-15.0zM361.2 103.8l7.5 12.6h-15.0zM363.9 102.7l7.5 12.6h-15.0zM367.7 104.4l7.5 12.6h-15.0zM370.5 102.5l7.5 12.6h-15.0zM373.7 101.1l7.5 12.6h-15.0zM378.6 104.9l7.5 12.6h-15.0zM381.0 104.8l7.5 12.6h-15.0zM384.6 106.5l7.5 12.6h-15.0zM388.0 104.5l7.5 12.6h-15.0zM391.4 102.7l7.5 12.6h-15.0zM394.9 106.0l7.5 12.6h-15.0zM398.7 102.7l7.5 12.6h-15.0zM401.8 104.2l7.5 12.6h-15.0zM405.8 103.3l7.5 12.6h-15.0zM408.8 105.5l7.5 12.6h-15.0zM411.8 109.3l7.5 12.6h-15.0zM416.2 108.2l7.5 12.6h-15.0zM419.5 112.0l7.5 12.6h-15.0zM422.7 113.1l7.5 12.6h-15.0zM426.0 112.5l7.5 12.6h-15.0zM429.8 116.4l7.5 12.6h-15.0zM433.1 116.4l7.5 12.6h-15.0zM435.8 119.6l7.5 12.6h-15.0zM439.6 116.4l7.5 12.6h-15.0zM443.5 118.0l7.5 12.6h-15.0zM447.7 117.5l7.5 12.6h-15.0zM451.3 120.5l7.5 12.6h-15.0zM455.6 118.3l7.5 12.6h-15.0zM458.5 118.5l7.5 12.6h-15.0zM461.5 114.6l7.5 12.6h-15.0zM466.5 121.2l7.5 12.6h-15.0zM469.0 121.5l7.5 12.6h-15.0zM471.6 123.4l7.5 12.6h-15.0zM475.3 119.4l7.5 12.6h-15.0zM478.8 122.5l7.5 12.6h-15.0zM482.5 125.5l7.5 12.6h-15.0zM126.5 119.6l7.5 12.6h-15.0zM129.8 119.6l7.5 12.6h-15.0zM133.0 119.6l7.5 12.6h-15.0zM136.3 122.1l7.5 12.6h-15.0zM139.5 124.3l7.5 12.6h-15.0zM142.8 124.3l7.5 12.6h-15.0zM146.1 125.9l7.5 12.6h-15.0zM149.3 124.3l7.5 12.6h-15.0zM152.6 124.3l7.5 12.6h-15.0zM155.9 124.3l7.5 12.6h-15.0zM159.1 122.7l7.5 12.6h-15.0zM162.4 122.7l7.5 12.6h-15.0zM165.6 122.7l7.5 12.6h-15.0zM168.9 122.7l7.5 12.6h-15.0zM172.2 122.7l7.5 12.6h-15.0zM175.4 122.7l7.5 12.6h-15.0zM178.7 119.9l7.5 12.6h-15.0zM182.0 119.9l7.5 12.6h-15.0zM185.2 119.9l7.5 12.6h-15.0zM188.5 119.9l7.5 12.6h-15.0zM191.7 119.9l7.5 12.6h-15.0zM195.0 119.9l7.5 12.6h-15.0zM198.3 119.9l7.5 12.6h-15.0zM201.5 119.9l7.5 12.6h-15.0zM204.8 117.7l7.5 12.6h-15.0zM208.1 117.7l7.5 12.6h-15.0zM211.3 117.7l7.5 12.6h-15.0zM214.6 117.7l7.5 12.6h-15.0zM217.8 117.7l7.5 12.6h-15.0zM221.1 116.9l7.5 12.6h-15.0zM224.4 116.9l7.5 12.6h-15.0zM227.6 116.9l7.5 12.6h-15.0zM230.9 116.9l7.5 12.6h-15.0zM234.1 118.6l7.5 12.6h-15.0zM237.4 112.0l7.5 12.6h-15.0zM240.7 112.0l7.5 12.6h-15.0zM243.9 110.4l7.5 12.6h-15.0zM247.2 110.4l7.5 12.6h-15.0zM250.5 110.4l7.5 12.6h-15.0zM253.7 110.4l7.5 12.6h-15.0zM257.0 108.8l7.5 12.6h-15.0zM260.2 108.8l7.5 12.6h-15.0zM263.5 108.8l7.5 12.6h-15.0zM266.8 108.8l7.5 12.6h-15.0zM270.0 108.8l7.5 12.6h-15.0zM273.3 107.0l7.5 12.6h-15.0zM276.6 107.0l7.5 12.6h-15.0zM279.8 106.5l7.5 12.6h-15.0zM283.1 106.5l7.5 12.6h-15.0zM286.3 105.4l7.5 12.6h-15.0zM289.6 105.4l7.5 12.6h-15.0zM292.9 105.4l7.5 12.6h-15.0zM296.1 105.4l7.5 12.6h-15.0zM299.4 103.8l7.5 12.6h-15.0zM302.6 103.8l7.5 12.6h-15.0zM305.9 103.8l7.5 12.6h-15.0zM309.2 103.8l7.5 12.6h-15.0zM312.4 102.7l7.5 12.6h-15.0zM315.7 102.7l7.5 12.6h-15.0zM319.0 102.4l7.5 12.6h-15.0zM322.2 102.4l7.5 12.6h-15.0zM325.5 102.4l7.5 12.6h-15.0zM328.7 102.4l7.5 12.6h-15.0zM332.0 102.4l7.5 12.6h-15.0zM335.3 102.4l7.5 12.6h-15.0zM338.5 102.4l7.5 12.6h-15.0zM341.8 102.4l7.5 12.6h-15.0zM345.1 102.4l7.5 12.6h-15.0zM348.3 104.4l7.5 12.6h-15.0zM351.6 104.4l7.5 12.6h-15.0zM354.8 104.9l7.5 12.6h-15.0zM358.1 104.9l7.5 12.6h-15.0zM361.4 104.9l7.5 12.6h-15.0zM364.6 104.9l7.5 12.6h-15.0zM367.9 104.9l7.5 12.6h-15.0zM371.2 104.9l7.5 12.6h-15.0zM374.4 104.9l7.5 12.6h-15.0zM377.7 105.9l7.5 12.6h-15.0zM380.9 105.9l7.5 12.6h-15.0zM384.2 106.5l7.5 12.6h-15.0zM387.5 106.5l7.5 12.6h-15.0zM390.7 106.5l7.5 12.6h-15.0zM394.0 107.0l7.5 12.6h-15.0zM397.2 107.0l7.5 12.6h-15.0zM400.5 107.0l7.5 12.6h-15.0zM403.8 107.0l7.5 12.6h-15.0zM407.0 107.0l7.5 12.6h-15.0zM410.3 108.4l7.5 12.6h-15.0zM413.6 110.3l7.5 12.6h-15.0zM416.8 110.3l7.5 12.6h-15.0zM420.1 113.6l7.5 12.6h-15.0zM423.3 113.6l7.5 12.6h-15.0zM426.6 113.6l7.5 12.6h-15.0zM429.9 116.9l7.5 12.6h-15.0zM433.1 116.9l7.5 12.6h-15.0zM436.4 120.7l7.5 12.6h-15.0zM439.7 120.2l7.5 12.6h-15.0zM442.9 120.2l7.5 12.6h-15.0zM446.2 120.2l7.5 12.6h-15.0zM449.4 120.2l7.5 12.6h-15.0zM452.7 120.2l7.5 12.6h-15.0zM456.0 120.2l7.5 12.6h-15.0zM459.2 120.2l7.5 12.6h-15.0zM462.5 120.2l7.5 12.6h-15.0zM465.7 122.4l7.5 12.6h-15.0zM469.0 122.4l7.5 12.6h-15.0zM472.3 123.9l7.5 12.6h-15.0zM475.5 123.9l7.5 12.6h-15.0zM478.8 123.9l7.5 12.6h-15.0zM482.1 125.3l7.5 12.6h-15.0z"/>
<rect x="109.7" y="37.8" width="424.4" height="311.9" fill="none" stroke="#000" stroke-width="1.7"/>
<path d="M126.5 349.7v-7 M167.3 349.7v-4 M208.1 349.7v-7 M248.8 349.7v-4 M289.6 349.7v-7 M330.4 349.7v-4 M371.1 349.7v-7 M411.9 349.7v-4 M452.7 349.7v-7 M493.5 349.7v-4 M534.2 349.7v-7 M109.7 349.7h7 M109.7 330.2h4 M109.7 310.7h7 M109.7 291.2h4 M109.7 271.7h7 M109.7 252.2h4 M109.7 232.7h7 M109.7 213.2h4 M109.7 193.8h7 M109.7 174.3h4 M109.7 154.8h7 M109.7 135.3h4 M109.7 115.8h7 M109.7 96.3h4 M109.7 76.8h7 M109.7 57.3h4 M109.7 37.8h7" stroke="#000" stroke-width="1.7" fill="none"/>
<g class="ax"><text x="126.9" y="371.2" text-anchor="middle">0.0</text><text x="208.4" y="371.2" text-anchor="middle">0.5</text><text x="290.0" y="371.2" text-anchor="middle">1.0</text><text x="371.5" y="371.2" text-anchor="middle">1.5</text><text x="453.1" y="371.2" text-anchor="middle">2.0</text><text x="534.6" y="371.2" text-anchor="middle">2.5</text><text x="37.8" y="356.6">2.2x10</text><text x="96.4" y="345.7" class="sup">4</text><text x="37.8" y="317.6">2.4x10</text><text x="96.4" y="306.7" class="sup">4</text><text x="37.8" y="278.6">2.6x10</text><text x="96.4" y="267.7" class="sup">4</text><text x="37.8" y="239.6">2.8x10</text><text x="96.4" y="228.7" class="sup">4</text><text x="37.8" y="200.7">3.0x10</text><text x="96.4" y="189.8" class="sup">4</text><text x="37.8" y="161.7">3.2x10</text><text x="96.4" y="150.8" class="sup">4</text><text x="37.8" y="122.7">3.4x10</text><text x="96.4" y="111.8" class="sup">4</text><text x="37.8" y="83.7">3.6x10</text><text x="96.4" y="72.8" class="sup">4</text><text x="37.8" y="44.7">3.8x10</text><text x="96.4" y="33.8" class="sup">4</text></g>
<text class="ax" x="322.2" y="397" text-anchor="middle" style="font-size:24.5px">Position (um)</text>
<text class="ax" transform="translate(25 188.7) rotate(-90) scale(1,1.07)" text-anchor="middle" style="font-size:25.3px">Intensity</text>
<g stroke-width="2" fill="none">
<path d="M116.9 51.3H149.9" stroke="#000"/><path d="M116.9 68.8H149.9" stroke="#f00"/><path d="M116.9 86.5H149.9" stroke="#00f"/>
</g>
<path d="M128.2 45.6h10.5v10.5h-10.5z" fill="#000"/>
<path d="M126.9 69.0a6.4 6.4 0 1 0 12.8 0a6.4 6.4 0 1 0 -12.8 0z" fill="#f00"/>
<path d="M133.2 78.0l7.5 12.6h-15.0z" fill="#00f"/>
<g class="lg"><text x="152.5" y="55.6">Intensity of MA BSE detector</text><text x="152.5" y="73.4">Intensity of MA-pn BSE detector</text><text x="152.5" y="91.1">Intensity of MA-Al BSE detector</text></g>
</svg>
</body></html>
